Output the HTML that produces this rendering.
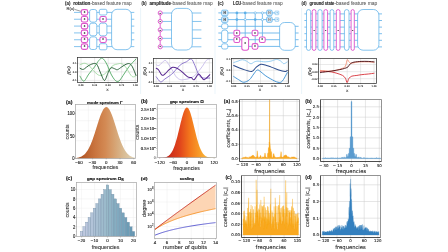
<!DOCTYPE html>
<html><head><meta charset="utf-8"><title>Feature maps and spectra</title>
<style>html,body{margin:0;padding:0;background:#fff;overflow:hidden;} svg{display:block;}</style></head>
<body><svg width="448" height="252" viewBox="0 0 448 252">
<rect width="448" height="252" fill="#fff"/>
<line x1="140.6" y1="8" x2="140.6" y2="94" stroke="#d6e8f5" stroke-width="0.5" />
<line x1="215" y1="8" x2="215" y2="94" stroke="#d6e8f5" stroke-width="0.5" />
<line x1="301.6" y1="8" x2="301.6" y2="94" stroke="#d6e8f5" stroke-width="0.5" />
<text x="65.1" y="5.13" font-size="4.8" text-anchor="start" textLength="5.4" lengthAdjust="spacingAndGlyphs" fill="#333" font-weight="bold" font-style="normal" font-family="'Liberation Sans', 'DejaVu Sans', sans-serif" stroke="#333" stroke-width="0.12">(a)</text>
<text x="73.2" y="4.97" font-size="4.5" text-anchor="start" textLength="17.2" lengthAdjust="spacingAndGlyphs" fill="#262626" font-weight="bold" font-style="normal" font-family="'Liberation Sans', 'DejaVu Sans', sans-serif" stroke="#262626" stroke-width="0.12">rotation</text>
<text x="90.4" y="5.14" font-size="4.7" text-anchor="start" textLength="41.2" lengthAdjust="spacingAndGlyphs" fill="#555" font-weight="normal" font-style="normal" font-family="'Liberation Sans', 'DejaVu Sans', sans-serif" stroke="#555" stroke-width="0.04">-based feature map</text>
<line x1="74" y1="12.4" x2="134.3" y2="12.4" stroke="#5eb0e8" stroke-width="0.75" />
<line x1="74" y1="19.24" x2="134.3" y2="19.24" stroke="#5eb0e8" stroke-width="0.75" />
<line x1="74" y1="26.08" x2="134.3" y2="26.08" stroke="#5eb0e8" stroke-width="0.75" />
<line x1="74" y1="32.92" x2="134.3" y2="32.92" stroke="#5eb0e8" stroke-width="0.75" />
<line x1="74" y1="39.76" x2="134.3" y2="39.76" stroke="#5eb0e8" stroke-width="0.75" />
<line x1="74" y1="46.6" x2="134.3" y2="46.6" stroke="#5eb0e8" stroke-width="0.75" />
<text x="66.6" y="10.44" font-size="4" text-anchor="start" textLength="7.8" lengthAdjust="spacingAndGlyphs" fill="#333" font-weight="normal" font-style="normal" font-family="'Liberation Sans', 'DejaVu Sans', sans-serif" stroke="#333" stroke-width="0.1">R(x)</text>
<line x1="74.6" y1="9.4" x2="81.8" y2="11.6" stroke="#222" stroke-width="0.45" />
<rect x="81.3" y="9.65" width="6.4" height="5.5" rx="1.8" fill="#fff" stroke="#de58cc" stroke-width="1.1" />
<text x="84.5" y="13.08" font-size="2.86" text-anchor="middle" fill="#2a2a2a" font-weight="bold" font-style="normal" font-family="'Liberation Sans', 'DejaVu Sans', sans-serif" stroke="#2a2a2a" stroke-width="0.12" >x</text>
<rect x="81.3" y="16.49" width="6.4" height="5.5" rx="1.8" fill="#fff" stroke="#de58cc" stroke-width="1.1" />
<text x="84.5" y="19.92" font-size="2.86" text-anchor="middle" fill="#2a2a2a" font-weight="bold" font-style="normal" font-family="'Liberation Sans', 'DejaVu Sans', sans-serif" stroke="#2a2a2a" stroke-width="0.12" >x</text>
<rect x="81.3" y="23.33" width="6.4" height="5.5" rx="1.8" fill="#fff" stroke="#de58cc" stroke-width="1.1" />
<text x="84.5" y="26.76" font-size="2.86" text-anchor="middle" fill="#2a2a2a" font-weight="bold" font-style="normal" font-family="'Liberation Sans', 'DejaVu Sans', sans-serif" stroke="#2a2a2a" stroke-width="0.12" >x</text>
<rect x="81.3" y="30.17" width="6.4" height="5.5" rx="1.8" fill="#fff" stroke="#de58cc" stroke-width="1.1" />
<text x="84.5" y="33.6" font-size="2.86" text-anchor="middle" fill="#2a2a2a" font-weight="bold" font-style="normal" font-family="'Liberation Sans', 'DejaVu Sans', sans-serif" stroke="#2a2a2a" stroke-width="0.12" >x</text>
<rect x="81.3" y="37.01" width="6.4" height="5.5" rx="1.8" fill="#fff" stroke="#de58cc" stroke-width="1.1" />
<text x="84.5" y="40.44" font-size="2.86" text-anchor="middle" fill="#2a2a2a" font-weight="bold" font-style="normal" font-family="'Liberation Sans', 'DejaVu Sans', sans-serif" stroke="#2a2a2a" stroke-width="0.12" >x</text>
<rect x="81.3" y="43.85" width="6.4" height="5.5" rx="1.8" fill="#fff" stroke="#de58cc" stroke-width="1.1" />
<text x="84.5" y="47.28" font-size="2.86" text-anchor="middle" fill="#2a2a2a" font-weight="bold" font-style="normal" font-family="'Liberation Sans', 'DejaVu Sans', sans-serif" stroke="#2a2a2a" stroke-width="0.12" >x</text>
<rect x="89.6" y="9.5" width="7.2" height="12.64" rx="2.2" fill="#fff" stroke="#5eb0e8" stroke-width="0.75" />
<rect x="89.6" y="23.18" width="7.2" height="12.64" rx="2.2" fill="#fff" stroke="#5eb0e8" stroke-width="0.75" />
<rect x="89.6" y="36.86" width="7.2" height="12.64" rx="2.2" fill="#fff" stroke="#5eb0e8" stroke-width="0.75" />
<rect x="99.3" y="9.3" width="7.6" height="5.7" rx="1.6" fill="#fff" stroke="#5eb0e8" stroke-width="0.75" />
<rect x="99.9" y="16.49" width="6.4" height="5.5" rx="1.8" fill="#fff" stroke="#de58cc" stroke-width="1.1" />
<text x="103.1" y="19.92" font-size="2.86" text-anchor="middle" fill="#2a2a2a" font-weight="bold" font-style="normal" font-family="'Liberation Sans', 'DejaVu Sans', sans-serif" stroke="#2a2a2a" stroke-width="0.12" >x</text>
<rect x="99.3" y="23.18" width="7.6" height="12.64" rx="2.2" fill="#fff" stroke="#5eb0e8" stroke-width="0.75" />
<rect x="99.9" y="37.01" width="6.4" height="5.5" rx="1.8" fill="#fff" stroke="#de58cc" stroke-width="1.1" />
<text x="103.1" y="40.44" font-size="2.86" text-anchor="middle" fill="#2a2a2a" font-weight="bold" font-style="normal" font-family="'Liberation Sans', 'DejaVu Sans', sans-serif" stroke="#2a2a2a" stroke-width="0.12" >x</text>
<rect x="99.3" y="43.7" width="7.6" height="6.1" rx="1.6" fill="#fff" stroke="#5eb0e8" stroke-width="0.75" />
<rect x="111.6" y="9.3" width="19.8" height="40.4" rx="5.5" fill="#fff" stroke="#5eb0e8" stroke-width="0.75" />
<text x="141.4" y="5.13" font-size="4.8" text-anchor="start" textLength="5.1" lengthAdjust="spacingAndGlyphs" fill="#333" font-weight="bold" font-style="normal" font-family="'Liberation Sans', 'DejaVu Sans', sans-serif" stroke="#333" stroke-width="0.12">(b)</text>
<text x="149.6" y="4.97" font-size="4.5" text-anchor="start" textLength="21.4" lengthAdjust="spacingAndGlyphs" fill="#262626" font-weight="bold" font-style="normal" font-family="'Liberation Sans', 'DejaVu Sans', sans-serif" stroke="#262626" stroke-width="0.12">amplitude</text>
<text x="171" y="5.14" font-size="4.7" text-anchor="start" textLength="41.6" lengthAdjust="spacingAndGlyphs" fill="#555" font-weight="normal" font-style="normal" font-family="'Liberation Sans', 'DejaVu Sans', sans-serif" stroke="#555" stroke-width="0.04">-based feature map</text>
<line x1="160.2" y1="13" x2="201.4" y2="13" stroke="#5eb0e8" stroke-width="0.75" />
<line x1="160.2" y1="21.45" x2="201.4" y2="21.45" stroke="#5eb0e8" stroke-width="0.75" />
<line x1="160.2" y1="29.9" x2="201.4" y2="29.9" stroke="#5eb0e8" stroke-width="0.75" />
<line x1="160.2" y1="38.35" x2="201.4" y2="38.35" stroke="#5eb0e8" stroke-width="0.75" />
<line x1="160.2" y1="46.8" x2="201.4" y2="46.8" stroke="#5eb0e8" stroke-width="0.75" />
<line x1="160.2" y1="13" x2="160.2" y2="46.8" stroke="#de58cc" stroke-width="0.9" />
<circle cx="160.2" cy="13" r="2.05" fill="#f6f6f6" stroke="#de58cc" stroke-width="0.95"/>
<text x="160.2" y="13.6" font-size="2.53" text-anchor="middle" fill="#2a2a2a" font-weight="bold" font-style="normal" font-family="'Liberation Sans', 'DejaVu Sans', sans-serif" stroke="#2a2a2a" stroke-width="0.12" >x</text>
<circle cx="160.2" cy="21.45" r="2.05" fill="#f6f6f6" stroke="#de58cc" stroke-width="0.95"/>
<text x="160.2" y="22.05" font-size="2.53" text-anchor="middle" fill="#2a2a2a" font-weight="bold" font-style="normal" font-family="'Liberation Sans', 'DejaVu Sans', sans-serif" stroke="#2a2a2a" stroke-width="0.12" >x</text>
<circle cx="160.2" cy="29.9" r="2.05" fill="#f6f6f6" stroke="#de58cc" stroke-width="0.95"/>
<text x="160.2" y="30.5" font-size="2.53" text-anchor="middle" fill="#2a2a2a" font-weight="bold" font-style="normal" font-family="'Liberation Sans', 'DejaVu Sans', sans-serif" stroke="#2a2a2a" stroke-width="0.12" >x</text>
<circle cx="160.2" cy="38.35" r="2.05" fill="#f6f6f6" stroke="#de58cc" stroke-width="0.95"/>
<text x="160.2" y="38.95" font-size="2.53" text-anchor="middle" fill="#2a2a2a" font-weight="bold" font-style="normal" font-family="'Liberation Sans', 'DejaVu Sans', sans-serif" stroke="#2a2a2a" stroke-width="0.12" >x</text>
<circle cx="160.2" cy="46.8" r="2.05" fill="#f6f6f6" stroke="#de58cc" stroke-width="0.95"/>
<text x="160.2" y="47.4" font-size="2.53" text-anchor="middle" fill="#2a2a2a" font-weight="bold" font-style="normal" font-family="'Liberation Sans', 'DejaVu Sans', sans-serif" stroke="#2a2a2a" stroke-width="0.12" >x</text>
<rect x="171.5" y="8.4" width="20.8" height="41.6" rx="6" fill="#fff" stroke="#5eb0e8" stroke-width="0.75" />
<text x="217.8" y="5.13" font-size="4.8" text-anchor="start" textLength="5.8" lengthAdjust="spacingAndGlyphs" fill="#333" font-weight="bold" font-style="normal" font-family="'Liberation Sans', 'DejaVu Sans', sans-serif" stroke="#333" stroke-width="0.12">(c)</text>
<text x="233" y="4.97" font-size="4.5" text-anchor="start" textLength="8" lengthAdjust="spacingAndGlyphs" fill="#262626" font-weight="bold" font-style="normal" font-family="'Liberation Sans', 'DejaVu Sans', sans-serif" stroke="#262626" stroke-width="0.12">LCU</text>
<text x="241" y="5.14" font-size="4.7" text-anchor="start" textLength="41.6" lengthAdjust="spacingAndGlyphs" fill="#555" font-weight="normal" font-style="normal" font-family="'Liberation Sans', 'DejaVu Sans', sans-serif" stroke="#555" stroke-width="0.04">-based feature map</text>
<line x1="218.3" y1="12.9" x2="275" y2="12.9" stroke="#5eb0e8" stroke-width="0.85" />
<line x1="218.3" y1="19.6" x2="275" y2="19.6" stroke="#5eb0e8" stroke-width="0.85" />
<line x1="218.3" y1="26.3" x2="298.6" y2="26.3" stroke="#5eb0e8" stroke-width="0.85" />
<line x1="218.3" y1="33" x2="298.6" y2="33" stroke="#5eb0e8" stroke-width="0.85" />
<line x1="218.3" y1="39.7" x2="298.6" y2="39.7" stroke="#5eb0e8" stroke-width="0.85" />
<line x1="218.3" y1="46.4" x2="298.6" y2="46.4" stroke="#5eb0e8" stroke-width="0.85" />
<rect x="221.6" y="10.1" width="6.3" height="5.6" rx="1.2" fill="#d8ecfa" stroke="#5eb0e8" stroke-width="0.75" />
<text x="224.75" y="14.1" font-size="3.3" text-anchor="middle" fill="#333" font-weight="bold" font-style="normal" font-family="'Liberation Sans', 'DejaVu Sans', sans-serif" stroke="#333" stroke-width="0.1" >H</text>
<rect x="221.6" y="16.8" width="6.3" height="5.6" rx="1.2" fill="#d8ecfa" stroke="#5eb0e8" stroke-width="0.75" />
<text x="224.75" y="20.8" font-size="3.3" text-anchor="middle" fill="#333" font-weight="bold" font-style="normal" font-family="'Liberation Sans', 'DejaVu Sans', sans-serif" stroke="#333" stroke-width="0.1" >H</text>
<rect x="221.6" y="23.7" width="6.2" height="5.2" rx="1.8" fill="#fff" stroke="#5eb0e8" stroke-width="0.75" />
<rect x="221.6" y="30.1" width="6.2" height="12.5" rx="2.4" fill="#fff" stroke="#5eb0e8" stroke-width="0.75" />
<rect x="221.6" y="43.8" width="6.2" height="5.2" rx="1.8" fill="#fff" stroke="#5eb0e8" stroke-width="0.75" />
<line x1="236.9" y1="12.9" x2="236.9" y2="39.7" stroke="#5eb0e8" stroke-width="0.8" />
<circle cx="236.9" cy="12.9" r="1.35" fill="#5eb0e8"/>
<circle cx="236.9" cy="19.6" r="1.35" fill="#5eb0e8"/>
<line x1="245.2" y1="12.9" x2="245.2" y2="48.4" stroke="#5eb0e8" stroke-width="0.8" />
<circle cx="245.2" cy="12.9" r="1.35" fill="#5eb0e8"/>
<circle cx="245.2" cy="19.6" r="1.1" fill="#fff" stroke="#5eb0e8" stroke-width="0.6"/>
<line x1="255.2" y1="12.9" x2="255.2" y2="46.4" stroke="#5eb0e8" stroke-width="0.8" />
<circle cx="255.2" cy="12.9" r="1.1" fill="#fff" stroke="#5eb0e8" stroke-width="0.6"/>
<circle cx="255.2" cy="19.6" r="1.35" fill="#5eb0e8"/>
<line x1="262.4" y1="12.9" x2="262.4" y2="39.7" stroke="#5eb0e8" stroke-width="0.8" />
<circle cx="262.4" cy="12.9" r="1.1" fill="#fff" stroke="#5eb0e8" stroke-width="0.6"/>
<circle cx="262.4" cy="19.6" r="1.1" fill="#fff" stroke="#5eb0e8" stroke-width="0.6"/>
<rect x="233.9" y="30.2" width="5.8" height="5.6" rx="1.6" fill="#fff" stroke="#de58cc" stroke-width="1.05" />
<text x="236.8" y="33.62" font-size="2.64" text-anchor="middle" fill="#2a2a2a" font-weight="bold" font-style="normal" font-family="'Liberation Sans', 'DejaVu Sans', sans-serif" stroke="#2a2a2a" stroke-width="0.12" >x</text>
<rect x="233.9" y="36.9" width="5.8" height="5.6" rx="1.6" fill="#fff" stroke="#de58cc" stroke-width="1.05" />
<text x="236.8" y="40.32" font-size="2.64" text-anchor="middle" fill="#2a2a2a" font-weight="bold" font-style="normal" font-family="'Liberation Sans', 'DejaVu Sans', sans-serif" stroke="#2a2a2a" stroke-width="0.12" >x</text>
<rect x="241.8" y="37.3" width="6.8" height="13" rx="2.2" fill="#fff" stroke="#de58cc" stroke-width="1.05" />
<text x="245.2" y="44.42" font-size="2.64" text-anchor="middle" fill="#2a2a2a" font-weight="bold" font-style="normal" font-family="'Liberation Sans', 'DejaVu Sans', sans-serif" stroke="#2a2a2a" stroke-width="0.12" >x</text>
<rect x="252.1" y="30.2" width="5.8" height="5.6" rx="1.6" fill="#fff" stroke="#de58cc" stroke-width="1.05" />
<text x="255" y="33.62" font-size="2.64" text-anchor="middle" fill="#2a2a2a" font-weight="bold" font-style="normal" font-family="'Liberation Sans', 'DejaVu Sans', sans-serif" stroke="#2a2a2a" stroke-width="0.12" >x</text>
<rect x="252.1" y="43.6" width="5.8" height="5.6" rx="1.6" fill="#fff" stroke="#de58cc" stroke-width="1.05" />
<text x="255" y="47.02" font-size="2.64" text-anchor="middle" fill="#2a2a2a" font-weight="bold" font-style="normal" font-family="'Liberation Sans', 'DejaVu Sans', sans-serif" stroke="#2a2a2a" stroke-width="0.12" >x</text>
<rect x="259.4" y="36.9" width="5.8" height="5.6" rx="1.6" fill="#fff" stroke="#de58cc" stroke-width="1.05" />
<text x="262.3" y="40.32" font-size="2.64" text-anchor="middle" fill="#2a2a2a" font-weight="bold" font-style="normal" font-family="'Liberation Sans', 'DejaVu Sans', sans-serif" stroke="#2a2a2a" stroke-width="0.12" >x</text>
<rect x="266.6" y="10.1" width="5.6" height="5.6" rx="1.4" fill="#d2e6f5" stroke="#5eb0e8" stroke-width="0.75" />
<text x="269.4" y="14.1" font-size="3.3" text-anchor="middle" fill="#8a7a70" font-weight="bold" font-style="normal" font-family="'Liberation Sans', 'DejaVu Sans', sans-serif" stroke="#8a7a70" stroke-width="0.1" >H</text>
<rect x="275" y="11.1" width="3.8" height="3.6" rx="0.4" fill="#fff" stroke="#5eb0e8" stroke-width="0.5" />
<path d="M275.5,13.8 A1.4,1.4 0 0 1 278.3,13.8 M276.9,13.9 L278.1,11.6" fill="none" stroke="#5eb0e8" stroke-width="0.45"/>
<rect x="266.6" y="16.8" width="5.6" height="5.6" rx="1.4" fill="#d2e6f5" stroke="#5eb0e8" stroke-width="0.75" />
<text x="269.4" y="20.8" font-size="3.3" text-anchor="middle" fill="#8a7a70" font-weight="bold" font-style="normal" font-family="'Liberation Sans', 'DejaVu Sans', sans-serif" stroke="#8a7a70" stroke-width="0.1" >H</text>
<rect x="275" y="17.8" width="3.8" height="3.6" rx="0.4" fill="#fff" stroke="#5eb0e8" stroke-width="0.5" />
<path d="M275.5,20.5 A1.4,1.4 0 0 1 278.3,20.5 M276.9,20.6 L278.1,18.3" fill="none" stroke="#5eb0e8" stroke-width="0.45"/>
<rect x="279.6" y="22.5" width="15.7" height="27.8" rx="5" fill="#fff" stroke="#5eb0e8" stroke-width="0.75" />
<text x="301.4" y="5.13" font-size="4.8" text-anchor="start" textLength="5.1" lengthAdjust="spacingAndGlyphs" fill="#333" font-weight="bold" font-style="normal" font-family="'Liberation Sans', 'DejaVu Sans', sans-serif" stroke="#333" stroke-width="0.12">(d)</text>
<text x="309.6" y="4.97" font-size="4.5" text-anchor="start" textLength="24.8" lengthAdjust="spacingAndGlyphs" fill="#262626" font-weight="bold" font-style="normal" font-family="'Liberation Sans', 'DejaVu Sans', sans-serif" stroke="#262626" stroke-width="0.12">ground state</text>
<text x="334.4" y="5.14" font-size="4.7" text-anchor="start" textLength="42.9" lengthAdjust="spacingAndGlyphs" fill="#555" font-weight="normal" font-style="normal" font-family="'Liberation Sans', 'DejaVu Sans', sans-serif" stroke="#555" stroke-width="0.04">-based feature map</text>
<line x1="304.4" y1="13.9" x2="382" y2="13.9" stroke="#5eb0e8" stroke-width="0.8" />
<line x1="304.4" y1="20.5" x2="382" y2="20.5" stroke="#5eb0e8" stroke-width="0.8" />
<line x1="304.4" y1="27.1" x2="382" y2="27.1" stroke="#5eb0e8" stroke-width="0.8" />
<line x1="304.4" y1="33.7" x2="382" y2="33.7" stroke="#5eb0e8" stroke-width="0.8" />
<line x1="304.4" y1="40.3" x2="382" y2="40.3" stroke="#5eb0e8" stroke-width="0.8" />
<line x1="304.4" y1="46.9" x2="382" y2="46.9" stroke="#5eb0e8" stroke-width="0.8" />
<rect x="306.5" y="9.6" width="4.2" height="40.8" rx="2.1" fill="#fff" stroke="#5eb0e8" stroke-width="0.75" />
<rect x="312.2" y="9.6" width="3.7" height="40.8" rx="1.85" fill="#fff" stroke="#de58cc" stroke-width="0.95" />
<text x="314.05" y="30.87" font-size="2.42" text-anchor="middle" fill="#2a2a2a" font-weight="bold" font-style="normal" font-family="'Liberation Sans', 'DejaVu Sans', sans-serif" stroke="#2a2a2a" stroke-width="0.12" >x</text>
<rect x="317.9" y="9.6" width="4.2" height="40.8" rx="2.1" fill="#fff" stroke="#5eb0e8" stroke-width="0.75" />
<rect x="323.9" y="9.6" width="3.7" height="40.8" rx="1.85" fill="#fff" stroke="#de58cc" stroke-width="0.95" />
<text x="325.75" y="30.87" font-size="2.42" text-anchor="middle" fill="#2a2a2a" font-weight="bold" font-style="normal" font-family="'Liberation Sans', 'DejaVu Sans', sans-serif" stroke="#2a2a2a" stroke-width="0.12" >x</text>
<rect x="330.1" y="9.6" width="3.7" height="40.8" rx="1.85" fill="#fff" stroke="#5eb0e8" stroke-width="0.75" />
<rect x="336.3" y="9.6" width="3.7" height="40.8" rx="1.85" fill="#fff" stroke="#de58cc" stroke-width="0.95" />
<text x="338.15" y="30.87" font-size="2.42" text-anchor="middle" fill="#2a2a2a" font-weight="bold" font-style="normal" font-family="'Liberation Sans', 'DejaVu Sans', sans-serif" stroke="#2a2a2a" stroke-width="0.12" >x</text>
<rect x="344.4" y="9.6" width="4.6" height="40.8" rx="2.3" fill="#fff" stroke="#5eb0e8" stroke-width="0.75" />
<rect x="351.1" y="9.6" width="3.2" height="40.8" rx="1.6" fill="#fff" stroke="#de58cc" stroke-width="0.95" />
<text x="352.7" y="30.87" font-size="2.42" text-anchor="middle" fill="#2a2a2a" font-weight="bold" font-style="normal" font-family="'Liberation Sans', 'DejaVu Sans', sans-serif" stroke="#2a2a2a" stroke-width="0.12" >x</text>
<rect x="357.6" y="9.5" width="21.3" height="40.7" rx="5.5" fill="#fff" stroke="#5eb0e8" stroke-width="0.75" />
<line x1="81" y1="57.1" x2="81" y2="82.6" stroke="#d0d0d0" stroke-width="0.45" />
<line x1="94.6" y1="57.1" x2="94.6" y2="82.6" stroke="#d0d0d0" stroke-width="0.45" />
<line x1="108.2" y1="57.1" x2="108.2" y2="82.6" stroke="#d0d0d0" stroke-width="0.45" />
<line x1="121.7" y1="57.1" x2="121.7" y2="82.6" stroke="#d0d0d0" stroke-width="0.45" />
<line x1="135.3" y1="57.1" x2="135.3" y2="82.6" stroke="#d0d0d0" stroke-width="0.45" />
<line x1="77.4" y1="63.3" x2="137.7" y2="63.3" stroke="#d0d0d0" stroke-width="0.45" />
<line x1="77.4" y1="71.9" x2="137.7" y2="71.9" stroke="#d0d0d0" stroke-width="0.45" />
<line x1="77.4" y1="80.4" x2="137.7" y2="80.4" stroke="#d0d0d0" stroke-width="0.45" />
<clipPath id="c77"><rect x="77.4" y="57.1" width="60.3" height="25.5"/></clipPath>
<g clip-path="url(#c77)">
<path d="M80,76.14 C80.64,76.98 82.38,81.5 83.86,81.14 C85.33,80.79 87.07,76.38 88.86,74 C90.64,71.62 92.9,69.12 94.57,66.86 C96.24,64.6 97.55,61.86 98.86,60.43 C100.17,59 101.12,57.69 102.43,58.29 C103.74,58.88 105.29,61.38 106.71,64 C108.14,66.62 109.57,71.26 111,74 C112.43,76.74 113.98,79.24 115.29,80.43 C116.6,81.62 117.55,81.98 118.86,81.14 C120.17,80.31 121.48,77.81 123.14,75.43 C124.81,73.05 126.71,69.6 128.86,66.86 C131,64.12 134.81,60.31 136,59" fill="none" stroke="#44a358" stroke-width="0.836" stroke-linejoin="round" stroke-linecap="round"/>
<path d="M80,64.71 C80.76,64.48 83.1,63.17 84.57,63.29 C86.05,63.4 87.19,64 88.86,65.43 C90.52,66.86 92.79,70.19 94.57,71.86 C96.36,73.52 97.9,75.07 99.57,75.43 C101.24,75.79 103.02,74.95 104.57,74 C106.12,73.05 107.43,71.14 108.86,69.71 C110.29,68.29 111.71,66.38 113.14,65.43 C114.57,64.48 116,64.29 117.43,64 C118.86,63.71 120.29,63.12 121.71,63.71 C123.14,64.31 124.45,65.62 126,67.57 C127.55,69.52 129.69,73.88 131,75.43 C132.31,76.98 133.02,76.86 133.86,76.86 C134.69,76.86 135.64,75.67 136,75.43" fill="none" stroke="#9ad89a" stroke-width="0.836" stroke-linejoin="round" stroke-linecap="round"/>
<path d="M80,68.29 C80.4,68.48 81.67,69.36 82.43,69.43 C83.19,69.5 83.5,69.38 84.57,68.71 C85.64,68.05 87.19,66.31 88.86,65.43 C90.52,64.55 93.14,63.43 94.57,63.43 C96,63.43 96.36,63.67 97.43,65.43 C98.5,67.19 99.81,71.5 101,74 C102.19,76.5 103.38,80.67 104.57,80.43 C105.76,80.19 107.07,74.67 108.14,72.57 C109.21,70.48 109.93,68.5 111,67.86 C112.07,67.21 113.5,68.4 114.57,68.71 C115.64,69.02 116.24,70.02 117.43,69.71 C118.62,69.4 120.29,67.76 121.71,66.86 C123.14,65.95 124.69,64.81 126,64.29 C127.31,63.76 128.5,63.29 129.57,63.71 C130.64,64.14 131.36,64.9 132.43,66.86 C133.5,68.81 135.4,74 136,75.43" fill="none" stroke="#1f5a30" stroke-width="0.924" stroke-linejoin="round" stroke-linecap="round"/>
</g>
<rect x="77.5" y="57.5" width="60" height="25" rx="0" fill="none" stroke="#333" stroke-width="0.75" />
<line x1="76.6" y1="63.3" x2="77.4" y2="63.3" stroke="#333" stroke-width="0.35" />
<text x="76.5" y="64.15" font-size="2.35" text-anchor="end" fill="#333" font-weight="normal" font-style="normal" font-family="'DejaVu Sans', 'Liberation Sans', sans-serif" stroke="#333" stroke-width="0.1" >0.1</text>
<line x1="76.6" y1="71.9" x2="77.4" y2="71.9" stroke="#333" stroke-width="0.35" />
<text x="76.5" y="72.75" font-size="2.35" text-anchor="end" fill="#333" font-weight="normal" font-style="normal" font-family="'DejaVu Sans', 'Liberation Sans', sans-serif" stroke="#333" stroke-width="0.1" >0.0</text>
<line x1="76.6" y1="80.4" x2="77.4" y2="80.4" stroke="#333" stroke-width="0.35" />
<text x="76.5" y="81.25" font-size="2.35" text-anchor="end" fill="#333" font-weight="normal" font-style="normal" font-family="'DejaVu Sans', 'Liberation Sans', sans-serif" stroke="#333" stroke-width="0.1" >-0.1</text>
<line x1="81" y1="82.6" x2="81" y2="83.4" stroke="#333" stroke-width="0.35" />
<text x="81" y="86.1" font-size="2.35" text-anchor="middle" fill="#333" font-weight="normal" font-style="normal" font-family="'DejaVu Sans', 'Liberation Sans', sans-serif" stroke="#333" stroke-width="0.1" >0.00</text>
<line x1="94.6" y1="82.6" x2="94.6" y2="83.4" stroke="#333" stroke-width="0.35" />
<text x="94.6" y="86.1" font-size="2.35" text-anchor="middle" fill="#333" font-weight="normal" font-style="normal" font-family="'DejaVu Sans', 'Liberation Sans', sans-serif" stroke="#333" stroke-width="0.1" >0.25</text>
<line x1="108.2" y1="82.6" x2="108.2" y2="83.4" stroke="#333" stroke-width="0.35" />
<text x="108.2" y="86.1" font-size="2.35" text-anchor="middle" fill="#333" font-weight="normal" font-style="normal" font-family="'DejaVu Sans', 'Liberation Sans', sans-serif" stroke="#333" stroke-width="0.1" >0.50</text>
<line x1="121.7" y1="82.6" x2="121.7" y2="83.4" stroke="#333" stroke-width="0.35" />
<text x="121.7" y="86.1" font-size="2.35" text-anchor="middle" fill="#333" font-weight="normal" font-style="normal" font-family="'DejaVu Sans', 'Liberation Sans', sans-serif" stroke="#333" stroke-width="0.1" >0.75</text>
<line x1="135.3" y1="82.6" x2="135.3" y2="83.4" stroke="#333" stroke-width="0.35" />
<text x="135.3" y="86.1" font-size="2.35" text-anchor="middle" fill="#333" font-weight="normal" font-style="normal" font-family="'DejaVu Sans', 'Liberation Sans', sans-serif" stroke="#333" stroke-width="0.1" >1.00</text>
<text x="107.55" y="91" font-size="4.2" text-anchor="middle" fill="#333" font-weight="normal" font-style="normal" font-family="'DejaVu Sans', 'Liberation Sans', sans-serif" stroke="#333" stroke-width="0.1" >x</text>
<text x="69.73" y="74.65" font-size="4.8" textLength="8.4" lengthAdjust="spacingAndGlyphs" fill="#333" font-weight="normal" font-style="italic" font-family="'Liberation Serif', 'DejaVu Serif', serif" stroke="#333" stroke-width="0.15" transform="rotate(-90 69.73 74.65)">f(x)</text>
<line x1="156.3" y1="58.3" x2="156.3" y2="83" stroke="#d0d0d0" stroke-width="0.45" />
<line x1="169.6" y1="58.3" x2="169.6" y2="83" stroke="#d0d0d0" stroke-width="0.45" />
<line x1="182.9" y1="58.3" x2="182.9" y2="83" stroke="#d0d0d0" stroke-width="0.45" />
<line x1="196.2" y1="58.3" x2="196.2" y2="83" stroke="#d0d0d0" stroke-width="0.45" />
<line x1="209.4" y1="58.3" x2="209.4" y2="83" stroke="#d0d0d0" stroke-width="0.45" />
<line x1="153.4" y1="62.8" x2="212.7" y2="62.8" stroke="#d0d0d0" stroke-width="0.45" />
<line x1="153.4" y1="72.3" x2="212.7" y2="72.3" stroke="#d0d0d0" stroke-width="0.45" />
<line x1="153.4" y1="81.8" x2="212.7" y2="81.8" stroke="#d0d0d0" stroke-width="0.45" />
<clipPath id="c153"><rect x="153.4" y="58.3" width="59.3" height="24.7"/></clipPath>
<g clip-path="url(#c153)">
<path d="M156.29,64.71 C156.76,64.83 157.71,66.14 159.14,65.43 C160.57,64.71 163.31,60.67 164.86,60.43 C166.4,60.19 167.24,62.45 168.43,64 C169.62,65.55 170.69,67.57 172,69.71 C173.31,71.86 174.86,75.19 176.29,76.86 C177.71,78.52 179.14,79.29 180.57,79.71 C182,80.14 183.43,79.62 184.86,79.43 C186.29,79.24 187.48,79.24 189.14,78.57 C190.81,77.9 192.71,77.38 194.86,75.43 C197,73.48 200.1,69.36 202,66.86 C203.9,64.36 204.98,61.74 206.29,60.43 C207.6,59.12 209.26,59.24 209.86,59" fill="none" stroke="#c2b6e8" stroke-width="0.836" stroke-linejoin="round" stroke-linecap="round"/>
<path d="M156.29,76.86 C157,77.69 159.14,81.5 160.57,81.86 C162,82.21 163.43,79.95 164.86,79 C166.29,78.05 167.71,77.21 169.14,76.14 C170.57,75.07 172,74 173.43,72.57 C174.86,71.14 176.29,69.05 177.71,67.57 C179.14,66.1 180.57,64.67 182,63.71 C183.43,62.76 184.74,62.64 186.29,61.86 C187.83,61.07 189.86,58.4 191.29,59 C192.71,59.6 193.55,62.69 194.86,65.43 C196.17,68.17 197.71,73.33 199.14,75.43 C200.57,77.52 201.64,77.57 203.43,78 C205.21,78.43 208.79,78 209.86,78" fill="none" stroke="#7d63c6" stroke-width="0.836" stroke-linejoin="round" stroke-linecap="round"/>
<path d="M156.29,68.29 C156.64,68.52 157.48,68.57 158.43,69.71 C159.38,70.86 160.93,74.43 162,75.14 C163.07,75.86 163.67,74.9 164.86,74 C166.05,73.1 167.83,70.83 169.14,69.71 C170.45,68.6 171.4,67.52 172.71,67.29 C174.02,67.05 175.45,67.52 177,68.29 C178.55,69.05 180.21,70.43 182,71.86 C183.79,73.29 186.17,75.9 187.71,76.86 C189.26,77.81 190.21,77.1 191.29,77.57 C192.36,78.05 192.95,80.31 194.14,79.71 C195.33,79.12 197.24,74.48 198.43,74 C199.62,73.52 200.33,75.9 201.29,76.86 C202.24,77.81 202.71,80.07 204.14,79.71 C205.57,79.36 208.9,75.55 209.86,74.71" fill="none" stroke="#56268e" stroke-width="1.012" stroke-linejoin="round" stroke-linecap="round"/>
</g>
<rect x="153.5" y="58.5" width="59" height="25" rx="0" fill="none" stroke="#333" stroke-width="0.75" />
<line x1="152.6" y1="62.8" x2="153.4" y2="62.8" stroke="#333" stroke-width="0.35" />
<text x="152.5" y="63.65" font-size="2.35" text-anchor="end" fill="#333" font-weight="normal" font-style="normal" font-family="'DejaVu Sans', 'Liberation Sans', sans-serif" stroke="#333" stroke-width="0.1" >0.1</text>
<line x1="152.6" y1="72.3" x2="153.4" y2="72.3" stroke="#333" stroke-width="0.35" />
<text x="152.5" y="73.15" font-size="2.35" text-anchor="end" fill="#333" font-weight="normal" font-style="normal" font-family="'DejaVu Sans', 'Liberation Sans', sans-serif" stroke="#333" stroke-width="0.1" >0.0</text>
<line x1="152.6" y1="81.8" x2="153.4" y2="81.8" stroke="#333" stroke-width="0.35" />
<text x="152.5" y="82.65" font-size="2.35" text-anchor="end" fill="#333" font-weight="normal" font-style="normal" font-family="'DejaVu Sans', 'Liberation Sans', sans-serif" stroke="#333" stroke-width="0.1" >-0.1</text>
<line x1="156.3" y1="83" x2="156.3" y2="83.8" stroke="#333" stroke-width="0.35" />
<text x="156.3" y="86.5" font-size="2.35" text-anchor="middle" fill="#333" font-weight="normal" font-style="normal" font-family="'DejaVu Sans', 'Liberation Sans', sans-serif" stroke="#333" stroke-width="0.1" >0.00</text>
<line x1="169.6" y1="83" x2="169.6" y2="83.8" stroke="#333" stroke-width="0.35" />
<text x="169.6" y="86.5" font-size="2.35" text-anchor="middle" fill="#333" font-weight="normal" font-style="normal" font-family="'DejaVu Sans', 'Liberation Sans', sans-serif" stroke="#333" stroke-width="0.1" >0.25</text>
<line x1="182.9" y1="83" x2="182.9" y2="83.8" stroke="#333" stroke-width="0.35" />
<text x="182.9" y="86.5" font-size="2.35" text-anchor="middle" fill="#333" font-weight="normal" font-style="normal" font-family="'DejaVu Sans', 'Liberation Sans', sans-serif" stroke="#333" stroke-width="0.1" >0.50</text>
<line x1="196.2" y1="83" x2="196.2" y2="83.8" stroke="#333" stroke-width="0.35" />
<text x="196.2" y="86.5" font-size="2.35" text-anchor="middle" fill="#333" font-weight="normal" font-style="normal" font-family="'DejaVu Sans', 'Liberation Sans', sans-serif" stroke="#333" stroke-width="0.1" >0.75</text>
<line x1="209.4" y1="83" x2="209.4" y2="83.8" stroke="#333" stroke-width="0.35" />
<text x="209.4" y="86.5" font-size="2.35" text-anchor="middle" fill="#333" font-weight="normal" font-style="normal" font-family="'DejaVu Sans', 'Liberation Sans', sans-serif" stroke="#333" stroke-width="0.1" >1.00</text>
<text x="183.05" y="91.4" font-size="4.2" text-anchor="middle" fill="#333" font-weight="normal" font-style="normal" font-family="'DejaVu Sans', 'Liberation Sans', sans-serif" stroke="#333" stroke-width="0.1" >x</text>
<text x="145.73" y="75.45" font-size="4.8" textLength="8.4" lengthAdjust="spacingAndGlyphs" fill="#333" font-weight="normal" font-style="italic" font-family="'Liberation Serif', 'DejaVu Serif', serif" stroke="#333" stroke-width="0.15" transform="rotate(-90 145.73 75.45)">f(x)</text>
<line x1="233.7" y1="58.3" x2="233.7" y2="83" stroke="#d0d0d0" stroke-width="0.45" />
<line x1="247.1" y1="58.3" x2="247.1" y2="83" stroke="#d0d0d0" stroke-width="0.45" />
<line x1="260.5" y1="58.3" x2="260.5" y2="83" stroke="#d0d0d0" stroke-width="0.45" />
<line x1="273.9" y1="58.3" x2="273.9" y2="83" stroke="#d0d0d0" stroke-width="0.45" />
<line x1="287.3" y1="58.3" x2="287.3" y2="83" stroke="#d0d0d0" stroke-width="0.45" />
<line x1="231.1" y1="59.3" x2="288.7" y2="59.3" stroke="#d0d0d0" stroke-width="0.45" />
<line x1="231.1" y1="70.2" x2="288.7" y2="70.2" stroke="#d0d0d0" stroke-width="0.45" />
<line x1="231.1" y1="81.1" x2="288.7" y2="81.1" stroke="#d0d0d0" stroke-width="0.45" />
<clipPath id="c231"><rect x="231.1" y="58.3" width="57.6" height="24.7"/></clipPath>
<g clip-path="url(#c231)">
<path d="M233.71,62.57 C234.43,62.33 236.57,61.62 238,61.14 C239.43,60.67 240.86,59.71 242.29,59.71 C243.71,59.71 245.14,60.48 246.57,61.14 C248,61.81 249.55,63.6 250.86,63.71 C252.17,63.83 253.24,62.29 254.43,61.86 C255.62,61.43 256.21,61.14 258,61.14 C259.79,61.14 263,61.86 265.14,61.86 C267.29,61.86 268.95,61.55 270.86,61.14 C272.76,60.74 274.9,59.43 276.57,59.43 C278.24,59.43 279.67,60.43 280.86,61.14 C282.05,61.86 282.64,63.6 283.71,63.71 C284.79,63.83 286.69,62.17 287.29,61.86" fill="none" stroke="#86c6ee" stroke-width="0.836" stroke-linejoin="round" stroke-linecap="round"/>
<path d="M233.71,76.57 C234.55,77.1 237.05,78.76 238.71,79.71 C240.38,80.67 241.93,82.29 243.71,82.29 C245.5,82.29 247.76,81.1 249.43,79.71 C251.1,78.33 252.4,75.62 253.71,74 C255.02,72.38 256.1,70.36 257.29,70 C258.48,69.64 259.55,70.95 260.86,71.86 C262.17,72.76 263.48,74.24 265.14,75.43 C266.81,76.62 268.71,77.86 270.86,79 C273,80.14 276.1,81.93 278,82.29 C279.9,82.64 280.74,82.76 282.29,81.14 C283.83,79.52 286.45,74 287.29,72.57" fill="none" stroke="#3a8fd4" stroke-width="0.924" stroke-linejoin="round" stroke-linecap="round"/>
<path d="M233.71,65.43 C235.14,66.02 239.31,68 242.29,69 C245.26,70 249.31,71.67 251.57,71.43 C253.83,71.19 254.31,68.76 255.86,67.57 C257.4,66.38 259.07,64.64 260.86,64.29 C262.64,63.93 264.9,65 266.57,65.43 C268.24,65.86 268.95,66.14 270.86,66.86 C272.76,67.57 275.62,68.95 278,69.71 C280.38,70.48 283.6,71.31 285.14,71.43 C286.69,71.55 286.93,70.6 287.29,70.43" fill="none" stroke="#2b4b8c" stroke-width="1.012" stroke-linejoin="round" stroke-linecap="round"/>
</g>
<rect x="231.5" y="58.5" width="57" height="25" rx="0" fill="none" stroke="#333" stroke-width="0.75" />
<line x1="230.3" y1="59.3" x2="231.1" y2="59.3" stroke="#333" stroke-width="0.35" />
<text x="230.2" y="60.15" font-size="2.35" text-anchor="end" fill="#333" font-weight="normal" font-style="normal" font-family="'DejaVu Sans', 'Liberation Sans', sans-serif" stroke="#333" stroke-width="0.1" >0.1</text>
<line x1="230.3" y1="70.2" x2="231.1" y2="70.2" stroke="#333" stroke-width="0.35" />
<text x="230.2" y="71.05" font-size="2.35" text-anchor="end" fill="#333" font-weight="normal" font-style="normal" font-family="'DejaVu Sans', 'Liberation Sans', sans-serif" stroke="#333" stroke-width="0.1" >0.0</text>
<line x1="230.3" y1="81.1" x2="231.1" y2="81.1" stroke="#333" stroke-width="0.35" />
<text x="230.2" y="81.95" font-size="2.35" text-anchor="end" fill="#333" font-weight="normal" font-style="normal" font-family="'DejaVu Sans', 'Liberation Sans', sans-serif" stroke="#333" stroke-width="0.1" >-0.1</text>
<line x1="233.7" y1="83" x2="233.7" y2="83.8" stroke="#333" stroke-width="0.35" />
<text x="233.7" y="86.5" font-size="2.35" text-anchor="middle" fill="#333" font-weight="normal" font-style="normal" font-family="'DejaVu Sans', 'Liberation Sans', sans-serif" stroke="#333" stroke-width="0.1" >0.00</text>
<line x1="247.1" y1="83" x2="247.1" y2="83.8" stroke="#333" stroke-width="0.35" />
<text x="247.1" y="86.5" font-size="2.35" text-anchor="middle" fill="#333" font-weight="normal" font-style="normal" font-family="'DejaVu Sans', 'Liberation Sans', sans-serif" stroke="#333" stroke-width="0.1" >0.25</text>
<line x1="260.5" y1="83" x2="260.5" y2="83.8" stroke="#333" stroke-width="0.35" />
<text x="260.5" y="86.5" font-size="2.35" text-anchor="middle" fill="#333" font-weight="normal" font-style="normal" font-family="'DejaVu Sans', 'Liberation Sans', sans-serif" stroke="#333" stroke-width="0.1" >0.50</text>
<line x1="273.9" y1="83" x2="273.9" y2="83.8" stroke="#333" stroke-width="0.35" />
<text x="273.9" y="86.5" font-size="2.35" text-anchor="middle" fill="#333" font-weight="normal" font-style="normal" font-family="'DejaVu Sans', 'Liberation Sans', sans-serif" stroke="#333" stroke-width="0.1" >0.75</text>
<line x1="287.3" y1="83" x2="287.3" y2="83.8" stroke="#333" stroke-width="0.35" />
<text x="287.3" y="86.5" font-size="2.35" text-anchor="middle" fill="#333" font-weight="normal" font-style="normal" font-family="'DejaVu Sans', 'Liberation Sans', sans-serif" stroke="#333" stroke-width="0.1" >1.00</text>
<text x="259.9" y="91.4" font-size="4.2" text-anchor="middle" fill="#333" font-weight="normal" font-style="normal" font-family="'DejaVu Sans', 'Liberation Sans', sans-serif" stroke="#333" stroke-width="0.1" >x</text>
<text x="223.43" y="75.45" font-size="4.8" textLength="8.4" lengthAdjust="spacingAndGlyphs" fill="#333" font-weight="normal" font-style="italic" font-family="'Liberation Serif', 'DejaVu Serif', serif" stroke="#333" stroke-width="0.15" transform="rotate(-90 223.43 75.45)">f(x)</text>
<line x1="320.4" y1="58.6" x2="320.4" y2="83.3" stroke="#d0d0d0" stroke-width="0.45" />
<line x1="333.8" y1="58.6" x2="333.8" y2="83.3" stroke="#d0d0d0" stroke-width="0.45" />
<line x1="347.2" y1="58.6" x2="347.2" y2="83.3" stroke="#d0d0d0" stroke-width="0.45" />
<line x1="360.6" y1="58.6" x2="360.6" y2="83.3" stroke="#d0d0d0" stroke-width="0.45" />
<line x1="374" y1="58.6" x2="374" y2="83.3" stroke="#d0d0d0" stroke-width="0.45" />
<line x1="318.3" y1="64.5" x2="376.1" y2="64.5" stroke="#d0d0d0" stroke-width="0.45" />
<line x1="318.3" y1="71.7" x2="376.1" y2="71.7" stroke="#d0d0d0" stroke-width="0.45" />
<line x1="318.3" y1="78.7" x2="376.1" y2="78.7" stroke="#d0d0d0" stroke-width="0.45" />
<clipPath id="c318"><rect x="318.3" y="58.6" width="57.8" height="24.7"/></clipPath>
<g clip-path="url(#c318)">
<path d="M320.43,71.14 C321.26,71.19 323.64,71.31 325.43,71.43 C327.21,71.55 329.24,71.55 331.14,71.86 C333.05,72.17 334.95,72.69 336.86,73.29 C338.76,73.88 341.14,74.6 342.57,75.43 C344,76.26 344.67,77.1 345.43,78.29 C346.19,79.48 346.55,82.57 347.14,82.57 C347.74,82.57 348.21,79.36 349,78.29 C349.79,77.21 350.55,76.62 351.86,76.14 C353.17,75.67 355.31,75.67 356.86,75.43 C358.4,75.19 359.24,74.95 361.14,74.71 C363.05,74.48 366.14,74.24 368.29,74 C370.43,73.76 373.05,73.4 374,73.29" fill="none" stroke="#d8343c" stroke-width="0.924" stroke-linejoin="round" stroke-linecap="round"/>
<path d="M320.43,70.43 C321.26,70.5 323.64,70.74 325.43,70.86 C327.21,70.98 329.24,71.26 331.14,71.14 C333.05,71.02 334.95,70.62 336.86,70.14 C338.76,69.67 341.14,68.95 342.57,68.29 C344,67.62 344.64,67.57 345.43,66.14 C346.21,64.71 346.69,60.43 347.29,59.71 C347.88,59 348.36,61.26 349,61.86 C349.64,62.45 349.83,63.24 351.14,63.29 C352.45,63.33 355.19,62.38 356.86,62.14 C358.52,61.9 359.24,61.9 361.14,61.86 C363.05,61.81 366.14,61.79 368.29,61.86 C370.43,61.93 373.05,62.21 374,62.29" fill="none" stroke="#f58a6c" stroke-width="0.836" stroke-linejoin="round" stroke-linecap="round"/>
<path d="M320.43,72.57 C321.26,72.45 323.64,72.1 325.43,71.86 C327.21,71.62 329.24,71.43 331.14,71.14 C333.05,70.86 334.95,70.5 336.86,70.14 C338.76,69.79 341.02,69.38 342.57,69 C344.12,68.62 345.24,68.21 346.14,67.86 C347.05,67.5 347.29,67.55 348,66.86 C348.71,66.17 349.43,64.5 350.43,63.71 C351.43,62.93 352.21,62.52 354,62.14 C355.79,61.76 358.76,61.55 361.14,61.43 C363.52,61.31 366.14,61.36 368.29,61.43 C370.43,61.5 373.05,61.79 374,61.86" fill="none" stroke="#4a1016" stroke-width="0.924" stroke-linejoin="round" stroke-linecap="round"/>
</g>
<rect x="318.5" y="58.5" width="58" height="25" rx="0" fill="none" stroke="#333" stroke-width="0.75" />
<line x1="317.5" y1="64.5" x2="318.3" y2="64.5" stroke="#333" stroke-width="0.35" />
<text x="317.4" y="65.35" font-size="2.35" text-anchor="end" fill="#333" font-weight="normal" font-style="normal" font-family="'DejaVu Sans', 'Liberation Sans', sans-serif" stroke="#333" stroke-width="0.1" >0.02</text>
<line x1="317.5" y1="71.7" x2="318.3" y2="71.7" stroke="#333" stroke-width="0.35" />
<text x="317.4" y="72.55" font-size="2.35" text-anchor="end" fill="#333" font-weight="normal" font-style="normal" font-family="'DejaVu Sans', 'Liberation Sans', sans-serif" stroke="#333" stroke-width="0.1" >0.00</text>
<line x1="317.5" y1="78.7" x2="318.3" y2="78.7" stroke="#333" stroke-width="0.35" />
<text x="317.4" y="79.55" font-size="2.35" text-anchor="end" fill="#333" font-weight="normal" font-style="normal" font-family="'DejaVu Sans', 'Liberation Sans', sans-serif" stroke="#333" stroke-width="0.1" >-0.02</text>
<line x1="320.4" y1="83.3" x2="320.4" y2="84.1" stroke="#333" stroke-width="0.35" />
<text x="320.4" y="86.8" font-size="2.35" text-anchor="middle" fill="#333" font-weight="normal" font-style="normal" font-family="'DejaVu Sans', 'Liberation Sans', sans-serif" stroke="#333" stroke-width="0.1" >0.00</text>
<line x1="333.8" y1="83.3" x2="333.8" y2="84.1" stroke="#333" stroke-width="0.35" />
<text x="333.8" y="86.8" font-size="2.35" text-anchor="middle" fill="#333" font-weight="normal" font-style="normal" font-family="'DejaVu Sans', 'Liberation Sans', sans-serif" stroke="#333" stroke-width="0.1" >0.25</text>
<line x1="347.2" y1="83.3" x2="347.2" y2="84.1" stroke="#333" stroke-width="0.35" />
<text x="347.2" y="86.8" font-size="2.35" text-anchor="middle" fill="#333" font-weight="normal" font-style="normal" font-family="'DejaVu Sans', 'Liberation Sans', sans-serif" stroke="#333" stroke-width="0.1" >0.50</text>
<line x1="360.6" y1="83.3" x2="360.6" y2="84.1" stroke="#333" stroke-width="0.35" />
<text x="360.6" y="86.8" font-size="2.35" text-anchor="middle" fill="#333" font-weight="normal" font-style="normal" font-family="'DejaVu Sans', 'Liberation Sans', sans-serif" stroke="#333" stroke-width="0.1" >0.75</text>
<line x1="374" y1="83.3" x2="374" y2="84.1" stroke="#333" stroke-width="0.35" />
<text x="374" y="86.8" font-size="2.35" text-anchor="middle" fill="#333" font-weight="normal" font-style="normal" font-family="'DejaVu Sans', 'Liberation Sans', sans-serif" stroke="#333" stroke-width="0.1" >1.00</text>
<text x="347.2" y="91.7" font-size="4.2" text-anchor="middle" fill="#333" font-weight="normal" font-style="normal" font-family="'DejaVu Sans', 'Liberation Sans', sans-serif" stroke="#333" stroke-width="0.1" >x</text>
<text x="310.63" y="75.75" font-size="4.8" textLength="8.4" lengthAdjust="spacingAndGlyphs" fill="#333" font-weight="normal" font-style="italic" font-family="'Liberation Serif', 'DejaVu Serif', serif" stroke="#333" stroke-width="0.15" transform="rotate(-90 310.63 75.75)">f(x)</text>
<defs><linearGradient id="gA" gradientUnits="userSpaceOnUse" x1="76" x2="135" y1="0" y2="0"><stop offset="0" stop-color="#a2481a"/><stop offset="0.15" stop-color="#b85e2c"/><stop offset="0.32" stop-color="#c9743e"/><stop offset="0.5" stop-color="#d38a54"/><stop offset="0.66" stop-color="#d6a474"/><stop offset="0.81" stop-color="#d9bc94"/><stop offset="1" stop-color="#e0d4b8"/></linearGradient><linearGradient id="gB" gradientUnits="userSpaceOnUse" x1="160" x2="214" y1="0" y2="0"><stop offset="0" stop-color="#b8161a"/><stop offset="0.38" stop-color="#e2481c"/><stop offset="0.55" stop-color="#f3761c"/><stop offset="0.75" stop-color="#f8a02a"/><stop offset="1" stop-color="#fccf4a"/></linearGradient></defs>
<line x1="88.4" y1="104.9" x2="88.4" y2="158.4" stroke="#ebebeb" stroke-width="0.4" />
<line x1="106.1" y1="104.9" x2="106.1" y2="158.4" stroke="#ebebeb" stroke-width="0.4" />
<line x1="124.7" y1="104.9" x2="124.7" y2="158.4" stroke="#ebebeb" stroke-width="0.4" />
<line x1="75.6" y1="110" x2="135.3" y2="110" stroke="#ebebeb" stroke-width="0.4" />
<line x1="75.6" y1="120.7" x2="135.3" y2="120.7" stroke="#ebebeb" stroke-width="0.4" />
<line x1="75.6" y1="130.8" x2="135.3" y2="130.8" stroke="#ebebeb" stroke-width="0.4" />
<line x1="75.6" y1="140.7" x2="135.3" y2="140.7" stroke="#ebebeb" stroke-width="0.4" />
<path d="M75.9,158.4 L75.9,158.02 L76.27,157.97 L76.64,157.92 L77.01,157.86 L77.38,157.8 L77.75,157.73 L78.12,157.65 L78.49,157.56 L78.85,157.46 L79.22,157.36 L79.59,157.24 L79.96,157.11 L80.33,156.97 L80.7,156.82 L81.07,156.66 L81.44,156.48 L81.81,156.28 L82.18,156.07 L82.55,155.84 L82.92,155.59 L83.29,155.32 L83.66,155.04 L84.03,154.73 L84.4,154.39 L84.76,154.04 L85.13,153.66 L85.5,153.25 L85.87,152.81 L86.24,152.35 L86.61,151.86 L86.98,151.34 L87.35,150.79 L87.72,150.21 L88.09,149.59 L88.46,148.95 L88.83,148.27 L89.2,147.56 L89.57,146.81 L89.94,146.04 L90.31,145.23 L90.67,144.38 L91.04,143.51 L91.41,142.6 L91.78,141.66 L92.15,140.69 L92.52,139.69 L92.89,138.67 L93.26,137.62 L93.63,136.54 L94,135.44 L94.37,134.32 L94.74,133.19 L95.11,132.04 L95.48,130.87 L95.85,129.7 L96.22,128.52 L96.58,127.33 L96.95,126.15 L97.32,124.97 L97.69,123.79 L98.06,122.63 L98.43,121.48 L98.8,120.35 L99.17,119.24 L99.54,118.16 L99.91,117.11 L100.28,116.09 L100.65,115.11 L101.02,114.17 L101.39,113.28 L101.76,112.43 L102.13,111.64 L102.5,110.9 L102.86,110.22 L103.23,109.6 L103.6,109.04 L103.97,108.56 L104.34,108.13 L104.71,107.78 L105.08,107.5 L105.45,107.3 L105.82,107.16 L106.19,107.1 L106.56,107.12 L106.93,107.21 L107.3,107.37 L107.67,107.61 L108.04,107.91 L108.41,108.29 L108.77,108.74 L109.14,109.26 L109.51,109.84 L109.88,110.48 L110.25,111.19 L110.62,111.95 L110.99,112.76 L111.36,113.63 L111.73,114.54 L112.1,115.49 L112.47,116.49 L112.84,117.52 L113.21,118.59 L113.58,119.68 L113.95,120.8 L114.31,121.94 L114.68,123.09 L115.05,124.26 L115.42,125.44 L115.79,126.62 L116.16,127.8 L116.53,128.99 L116.9,130.17 L117.27,131.34 L117.64,132.5 L118.01,133.64 L118.38,134.77 L118.75,135.88 L119.12,136.97 L119.49,138.04 L119.86,139.08 L120.22,140.09 L120.59,141.08 L120.96,142.04 L121.33,142.96 L121.7,143.86 L122.07,144.72 L122.44,145.55 L122.81,146.35 L123.18,147.11 L123.55,147.85 L123.92,148.54 L124.29,149.21 L124.66,149.84 L125.03,150.44 L125.4,151.01 L125.77,151.55 L126.13,152.06 L126.5,152.54 L126.87,152.99 L127.24,153.41 L127.61,153.81 L127.98,154.18 L128.35,154.53 L128.72,154.85 L129.09,155.15 L129.46,155.43 L129.83,155.69 L130.2,155.93 L130.57,156.16 L130.94,156.36 L131.31,156.55 L131.68,156.72 L132.04,156.88 L132.41,157.03 L132.78,157.17 L133.15,157.29 L133.52,157.4 L133.89,157.5 L134.26,157.6 L134.63,157.68 L135,157.76 L135,158.4 Z" fill="url(#gA)"/>
<rect x="75.5" y="104.5" width="60" height="54" rx="0" fill="none" stroke="#aaa" stroke-width="0.75" />
<line x1="74.7" y1="113.6" x2="75.6" y2="113.6" stroke="#777" stroke-width="0.4" />
<text x="74.5" y="115.33" font-size="4.8" text-anchor="end" textLength="7" lengthAdjust="spacingAndGlyphs" fill="#262626" font-weight="normal" font-style="normal" font-family="'Liberation Sans', 'DejaVu Sans', sans-serif" stroke="#262626" stroke-width="0.14">100</text>
<line x1="74.7" y1="136" x2="75.6" y2="136" stroke="#777" stroke-width="0.4" />
<text x="74.5" y="137.73" font-size="4.8" text-anchor="end" textLength="4.5" lengthAdjust="spacingAndGlyphs" fill="#262626" font-weight="normal" font-style="normal" font-family="'Liberation Sans', 'DejaVu Sans', sans-serif" stroke="#262626" stroke-width="0.14">50</text>
<line x1="74.7" y1="158.4" x2="75.6" y2="158.4" stroke="#777" stroke-width="0.4" />
<text x="74.5" y="160.13" font-size="4.8" text-anchor="end" textLength="2.3" lengthAdjust="spacingAndGlyphs" fill="#262626" font-weight="normal" font-style="normal" font-family="'Liberation Sans', 'DejaVu Sans', sans-serif" stroke="#262626" stroke-width="0.14">0</text>
<line x1="78.9" y1="158.4" x2="78.9" y2="159.3" stroke="#777" stroke-width="0.4" />
<text x="78.9" y="164.38" font-size="4.4" text-anchor="middle" fill="#262626" font-weight="normal" font-style="normal" font-family="'Liberation Sans', 'DejaVu Sans', sans-serif" stroke="#262626" stroke-width="0.14" >−60</text>
<line x1="92.6" y1="158.4" x2="92.6" y2="159.3" stroke="#777" stroke-width="0.4" />
<text x="92.6" y="164.38" font-size="4.4" text-anchor="middle" fill="#262626" font-weight="normal" font-style="normal" font-family="'Liberation Sans', 'DejaVu Sans', sans-serif" stroke="#262626" stroke-width="0.14" >−30</text>
<line x1="106.3" y1="158.4" x2="106.3" y2="159.3" stroke="#777" stroke-width="0.4" />
<text x="106.3" y="164.38" font-size="4.4" text-anchor="middle" fill="#262626" font-weight="normal" font-style="normal" font-family="'Liberation Sans', 'DejaVu Sans', sans-serif" stroke="#262626" stroke-width="0.14" >0</text>
<line x1="120" y1="158.4" x2="120" y2="159.3" stroke="#777" stroke-width="0.4" />
<text x="120" y="164.38" font-size="4.4" text-anchor="middle" fill="#262626" font-weight="normal" font-style="normal" font-family="'Liberation Sans', 'DejaVu Sans', sans-serif" stroke="#262626" stroke-width="0.14" >30</text>
<line x1="133.7" y1="158.4" x2="133.7" y2="159.3" stroke="#777" stroke-width="0.4" />
<text x="133.7" y="164.38" font-size="4.4" text-anchor="middle" fill="#262626" font-weight="normal" font-style="normal" font-family="'Liberation Sans', 'DejaVu Sans', sans-serif" stroke="#262626" stroke-width="0.14" >60</text>
<text x="92.5" y="169.2" font-size="5" text-anchor="start" textLength="25.8" lengthAdjust="spacingAndGlyphs" fill="#2a2a2a" font-weight="normal" font-style="normal" font-family="'Liberation Sans', 'DejaVu Sans', sans-serif" stroke="#2a2a2a" stroke-width="0.08">frequencies</text>
<text x="68.66" y="139.4" font-size="4.9" textLength="15" lengthAdjust="spacingAndGlyphs" fill="#2a2a2a" font-weight="normal" font-style="normal" font-family="'Liberation Sans', 'DejaVu Sans', sans-serif" stroke="#2a2a2a" stroke-width="0.08" transform="rotate(-90 68.66 139.4)">counts</text>
<text x="66" y="104.06" font-size="4.6" text-anchor="start" textLength="6.4" lengthAdjust="spacingAndGlyphs" fill="#222" font-weight="bold" font-style="normal" font-family="'Liberation Sans', 'DejaVu Sans', sans-serif" stroke="#222" stroke-width="0.15">(a)</text>
<text x="87.1" y="103.71" font-size="4.2" text-anchor="start" textLength="35.4" lengthAdjust="spacingAndGlyphs" fill="#1a1a1a" font-weight="bold" font-style="normal" font-family="'Liberation Sans', 'DejaVu Sans', sans-serif" stroke="#1a1a1a" stroke-width="0.18">mode spectrum Γ</text>
<line x1="175.57" y1="104.8" x2="175.57" y2="157.9" stroke="#e4e4e4" stroke-width="0.4" />
<line x1="198.23" y1="104.8" x2="198.23" y2="157.9" stroke="#e4e4e4" stroke-width="0.4" />
<line x1="157" y1="108.5" x2="216.5" y2="108.5" stroke="#e4e4e4" stroke-width="0.4" />
<line x1="157" y1="118.4" x2="216.5" y2="118.4" stroke="#e4e4e4" stroke-width="0.4" />
<path d="M157.3,157.9 L157.3,157.89 L157.67,157.88 L158.04,157.88 L158.4,157.88 L158.77,157.87 L159.14,157.86 L159.51,157.86 L159.88,157.85 L160.25,157.84 L160.61,157.82 L160.98,157.81 L161.35,157.79 L161.72,157.77 L162.09,157.74 L162.45,157.71 L162.82,157.68 L163.19,157.64 L163.56,157.6 L163.93,157.54 L164.29,157.48 L164.66,157.41 L165.03,157.33 L165.4,157.24 L165.77,157.14 L166.14,157.02 L166.5,156.88 L166.87,156.73 L167.24,156.56 L167.61,156.37 L167.98,156.15 L168.34,155.91 L168.71,155.64 L169.08,155.34 L169.45,155.01 L169.82,154.64 L170.18,154.24 L170.55,153.79 L170.92,153.31 L171.29,152.78 L171.66,152.2 L172.03,151.58 L172.39,150.9 L172.76,150.18 L173.13,149.39 L173.5,148.56 L173.87,147.66 L174.23,146.71 L174.6,145.71 L174.97,144.64 L175.34,143.52 L175.71,142.35 L176.07,141.12 L176.44,139.84 L176.81,138.51 L177.18,137.13 L177.55,135.72 L177.91,134.27 L178.28,132.79 L178.65,131.28 L179.02,129.76 L179.39,128.22 L179.76,126.68 L180.12,125.14 L180.49,123.62 L180.86,122.11 L181.23,120.63 L181.6,119.19 L181.96,117.8 L182.33,116.46 L182.7,115.19 L183.07,113.98 L183.44,112.86 L183.81,111.83 L184.17,110.9 L184.54,110.06 L184.91,109.34 L185.28,108.73 L185.65,108.24 L186.01,107.87 L186.38,107.63 L186.75,107.51 L187.12,107.52 L187.49,107.66 L187.85,107.93 L188.22,108.32 L188.59,108.83 L188.96,109.46 L189.33,110.21 L189.69,111.06 L190.06,112.02 L190.43,113.06 L190.8,114.2 L191.17,115.42 L191.54,116.7 L191.9,118.05 L192.27,119.45 L192.64,120.9 L193.01,122.39 L193.38,123.9 L193.74,125.43 L194.11,126.96 L194.48,128.51 L194.85,130.04 L195.22,131.56 L195.58,133.06 L195.95,134.54 L196.32,135.98 L196.69,137.39 L197.06,138.76 L197.43,140.08 L197.79,141.35 L198.16,142.57 L198.53,143.73 L198.9,144.84 L199.27,145.9 L199.63,146.89 L200,147.83 L200.37,148.72 L200.74,149.54 L201.11,150.31 L201.47,151.03 L201.84,151.7 L202.21,152.31 L202.58,152.88 L202.95,153.4 L203.32,153.88 L203.68,154.31 L204.05,154.71 L204.42,155.07 L204.79,155.4 L205.16,155.69 L205.52,155.95 L205.89,156.19 L206.26,156.4 L206.63,156.59 L207,156.76 L207.37,156.91 L207.73,157.04 L208.1,157.16 L208.47,157.26 L208.84,157.35 L209.21,157.43 L209.57,157.49 L209.94,157.55 L210.31,157.61 L210.68,157.65 L211.05,157.69 L211.41,157.72 L211.78,157.75 L212.15,157.77 L212.52,157.79 L212.89,157.81 L213.25,157.83 L213.62,157.84 L213.99,157.85 L214.36,157.86 L214.73,157.86 L215.1,157.87 L215.46,157.88 L215.83,157.88 L216.2,157.88 L216.2,157.9 Z" fill="url(#gB)"/>
<rect x="157.5" y="104.5" width="59" height="53" rx="0" fill="none" stroke="#aaa" stroke-width="0.75" />
<line x1="156.1" y1="109.2" x2="157" y2="109.2" stroke="#666" stroke-width="0.35" />
<text x="140.8" y="110.65" font-size="4.4" fill="#2a2a2a" stroke="#2a2a2a" stroke-width="0.16" font-family="'Liberation Serif', 'DejaVu Serif', serif" textLength="14.8" lengthAdjust="spacingAndGlyphs">2.5×10<tspan dy="-1.6" font-size="2.7">5</tspan></text>
<line x1="156.1" y1="119" x2="157" y2="119" stroke="#666" stroke-width="0.35" />
<text x="140.8" y="120.45" font-size="4.4" fill="#2a2a2a" stroke="#2a2a2a" stroke-width="0.16" font-family="'Liberation Serif', 'DejaVu Serif', serif" textLength="14.8" lengthAdjust="spacingAndGlyphs">2.0×10<tspan dy="-1.6" font-size="2.7">5</tspan></text>
<line x1="156.1" y1="128.8" x2="157" y2="128.8" stroke="#666" stroke-width="0.35" />
<text x="140.8" y="130.25" font-size="4.4" fill="#2a2a2a" stroke="#2a2a2a" stroke-width="0.16" font-family="'Liberation Serif', 'DejaVu Serif', serif" textLength="14.8" lengthAdjust="spacingAndGlyphs">1.5×10<tspan dy="-1.6" font-size="2.7">5</tspan></text>
<line x1="156.1" y1="138.6" x2="157" y2="138.6" stroke="#666" stroke-width="0.35" />
<text x="140.8" y="140.05" font-size="4.4" fill="#2a2a2a" stroke="#2a2a2a" stroke-width="0.16" font-family="'Liberation Serif', 'DejaVu Serif', serif" textLength="14.8" lengthAdjust="spacingAndGlyphs">1.0×10<tspan dy="-1.6" font-size="2.7">5</tspan></text>
<line x1="156.1" y1="148.4" x2="157" y2="148.4" stroke="#666" stroke-width="0.35" />
<text x="140.8" y="149.85" font-size="4.4" fill="#2a2a2a" stroke="#2a2a2a" stroke-width="0.16" font-family="'Liberation Serif', 'DejaVu Serif', serif" textLength="14.8" lengthAdjust="spacingAndGlyphs">0.5×10<tspan dy="-1.6" font-size="2.7">5</tspan></text>
<line x1="156.5" y1="158.2" x2="157" y2="158.2" stroke="#888" stroke-width="0.25" />
<line x1="156.5" y1="156.24" x2="157" y2="156.24" stroke="#888" stroke-width="0.25" />
<line x1="156.5" y1="154.28" x2="157" y2="154.28" stroke="#888" stroke-width="0.25" />
<line x1="156.5" y1="152.32" x2="157" y2="152.32" stroke="#888" stroke-width="0.25" />
<line x1="156.5" y1="150.36" x2="157" y2="150.36" stroke="#888" stroke-width="0.25" />
<line x1="156.5" y1="148.4" x2="157" y2="148.4" stroke="#888" stroke-width="0.25" />
<line x1="156.5" y1="146.44" x2="157" y2="146.44" stroke="#888" stroke-width="0.25" />
<line x1="156.5" y1="144.48" x2="157" y2="144.48" stroke="#888" stroke-width="0.25" />
<line x1="156.5" y1="142.52" x2="157" y2="142.52" stroke="#888" stroke-width="0.25" />
<line x1="156.5" y1="140.56" x2="157" y2="140.56" stroke="#888" stroke-width="0.25" />
<line x1="156.5" y1="138.6" x2="157" y2="138.6" stroke="#888" stroke-width="0.25" />
<line x1="156.5" y1="136.64" x2="157" y2="136.64" stroke="#888" stroke-width="0.25" />
<line x1="156.5" y1="134.68" x2="157" y2="134.68" stroke="#888" stroke-width="0.25" />
<line x1="156.5" y1="132.72" x2="157" y2="132.72" stroke="#888" stroke-width="0.25" />
<line x1="156.5" y1="130.76" x2="157" y2="130.76" stroke="#888" stroke-width="0.25" />
<line x1="156.5" y1="128.8" x2="157" y2="128.8" stroke="#888" stroke-width="0.25" />
<line x1="156.5" y1="126.84" x2="157" y2="126.84" stroke="#888" stroke-width="0.25" />
<line x1="156.5" y1="124.88" x2="157" y2="124.88" stroke="#888" stroke-width="0.25" />
<line x1="156.5" y1="122.92" x2="157" y2="122.92" stroke="#888" stroke-width="0.25" />
<line x1="156.5" y1="120.96" x2="157" y2="120.96" stroke="#888" stroke-width="0.25" />
<line x1="156.5" y1="119" x2="157" y2="119" stroke="#888" stroke-width="0.25" />
<line x1="156.5" y1="117.04" x2="157" y2="117.04" stroke="#888" stroke-width="0.25" />
<line x1="156.5" y1="115.08" x2="157" y2="115.08" stroke="#888" stroke-width="0.25" />
<line x1="156.5" y1="113.12" x2="157" y2="113.12" stroke="#888" stroke-width="0.25" />
<line x1="156.5" y1="111.16" x2="157" y2="111.16" stroke="#888" stroke-width="0.25" />
<line x1="156.5" y1="109.2" x2="157" y2="109.2" stroke="#888" stroke-width="0.25" />
<line x1="156.5" y1="107.24" x2="157" y2="107.24" stroke="#888" stroke-width="0.25" />
<line x1="156.1" y1="157.9" x2="157" y2="157.9" stroke="#666" stroke-width="0.35" />
<text x="155.7" y="159.3" font-size="4" text-anchor="end" fill="#333" font-weight="normal" font-style="normal" font-family="'Liberation Serif', 'DejaVu Serif', serif" >0</text>
<line x1="159.7" y1="157.9" x2="159.7" y2="158.8" stroke="#777" stroke-width="0.4" />
<text x="159.7" y="164.38" font-size="4.4" text-anchor="middle" fill="#262626" font-weight="normal" font-style="normal" font-family="'Liberation Sans', 'DejaVu Sans', sans-serif" stroke="#262626" stroke-width="0.14" >−120</text>
<line x1="173.3" y1="157.9" x2="173.3" y2="158.8" stroke="#777" stroke-width="0.4" />
<text x="173.3" y="164.38" font-size="4.4" text-anchor="middle" fill="#262626" font-weight="normal" font-style="normal" font-family="'Liberation Sans', 'DejaVu Sans', sans-serif" stroke="#262626" stroke-width="0.14" >−60</text>
<line x1="186.9" y1="157.9" x2="186.9" y2="158.8" stroke="#777" stroke-width="0.4" />
<text x="186.9" y="164.38" font-size="4.4" text-anchor="middle" fill="#262626" font-weight="normal" font-style="normal" font-family="'Liberation Sans', 'DejaVu Sans', sans-serif" stroke="#262626" stroke-width="0.14" >0</text>
<line x1="200.5" y1="157.9" x2="200.5" y2="158.8" stroke="#777" stroke-width="0.4" />
<text x="200.5" y="164.38" font-size="4.4" text-anchor="middle" fill="#262626" font-weight="normal" font-style="normal" font-family="'Liberation Sans', 'DejaVu Sans', sans-serif" stroke="#262626" stroke-width="0.14" >60</text>
<line x1="214.1" y1="157.9" x2="214.1" y2="158.8" stroke="#777" stroke-width="0.4" />
<text x="214.1" y="164.38" font-size="4.4" text-anchor="middle" fill="#262626" font-weight="normal" font-style="normal" font-family="'Liberation Sans', 'DejaVu Sans', sans-serif" stroke="#262626" stroke-width="0.14" >120</text>
<text x="173.3" y="169.8" font-size="5" text-anchor="start" textLength="26.5" lengthAdjust="spacingAndGlyphs" fill="#2a2a2a" font-weight="normal" font-style="normal" font-family="'Liberation Sans', 'DejaVu Sans', sans-serif" stroke="#2a2a2a" stroke-width="0.08">frequencies</text>
<text x="139.26" y="139.8" font-size="4.9" textLength="15" lengthAdjust="spacingAndGlyphs" fill="#2a2a2a" font-weight="normal" font-style="normal" font-family="'Liberation Sans', 'DejaVu Sans', sans-serif" stroke="#2a2a2a" stroke-width="0.08" transform="rotate(-90 139.26 139.8)">counts</text>
<text x="140.9" y="102.96" font-size="4.6" text-anchor="start" textLength="6.7" lengthAdjust="spacingAndGlyphs" fill="#222" font-weight="bold" font-style="normal" font-family="'Liberation Sans', 'DejaVu Sans', sans-serif" stroke="#222" stroke-width="0.15">(b)</text>
<text x="169.9" y="103.11" font-size="4.2" text-anchor="start" textLength="34" lengthAdjust="spacingAndGlyphs" fill="#1a1a1a" font-weight="bold" font-style="normal" font-family="'Liberation Sans', 'DejaVu Sans', sans-serif" stroke="#1a1a1a" stroke-width="0.18">gap spectrum Ω</text>
<line x1="81.6" y1="182" x2="81.6" y2="236.6" stroke="#ececec" stroke-width="0.4" />
<line x1="94.55" y1="182" x2="94.55" y2="236.6" stroke="#ececec" stroke-width="0.4" />
<line x1="107.5" y1="182" x2="107.5" y2="236.6" stroke="#ececec" stroke-width="0.4" />
<line x1="120.45" y1="182" x2="120.45" y2="236.6" stroke="#ececec" stroke-width="0.4" />
<line x1="133.4" y1="182" x2="133.4" y2="236.6" stroke="#ececec" stroke-width="0.4" />
<line x1="76.3" y1="226.8" x2="136.2" y2="226.8" stroke="#ececec" stroke-width="0.4" />
<line x1="76.3" y1="217.5" x2="136.2" y2="217.5" stroke="#ececec" stroke-width="0.4" />
<line x1="76.3" y1="208.2" x2="136.2" y2="208.2" stroke="#ececec" stroke-width="0.4" />
<line x1="76.3" y1="198.9" x2="136.2" y2="198.9" stroke="#ececec" stroke-width="0.4" />
<line x1="76.3" y1="189.6" x2="136.2" y2="189.6" stroke="#ececec" stroke-width="0.4" />
<rect x="80.31" y="231.45" width="2.59" height="4.65" rx="0" fill="rgb(196,202,226)" stroke="#7590a8" stroke-width="0.35" />
<rect x="82.9" y="226.8" width="2.59" height="9.3" rx="0" fill="rgb(191,200,223)" stroke="#7590a8" stroke-width="0.35" />
<rect x="85.48" y="222.15" width="2.59" height="13.95" rx="0" fill="rgb(187,198,221)" stroke="#7590a8" stroke-width="0.35" />
<rect x="88.08" y="217.5" width="2.59" height="18.6" rx="0" fill="rgb(182,197,218)" stroke="#7590a8" stroke-width="0.35" />
<rect x="90.66" y="212.85" width="2.59" height="23.25" rx="0" fill="rgb(178,195,216)" stroke="#7590a8" stroke-width="0.35" />
<rect x="93.25" y="208.2" width="2.59" height="27.9" rx="0" fill="rgb(173,193,213)" stroke="#7590a8" stroke-width="0.35" />
<rect x="95.84" y="203.55" width="2.59" height="32.55" rx="0" fill="rgb(168,191,210)" stroke="#7590a8" stroke-width="0.35" />
<rect x="98.44" y="198.9" width="2.59" height="37.2" rx="0" fill="rgb(164,189,208)" stroke="#7590a8" stroke-width="0.35" />
<rect x="101.03" y="194.25" width="2.59" height="41.85" rx="0" fill="rgb(159,188,205)" stroke="#7590a8" stroke-width="0.35" />
<rect x="103.61" y="189.6" width="2.59" height="46.5" rx="0" fill="rgb(155,186,203)" stroke="#7590a8" stroke-width="0.35" />
<rect x="106.2" y="184.95" width="2.59" height="51.15" rx="0" fill="rgb(150,184,200)" stroke="#7590a8" stroke-width="0.35" />
<rect x="108.8" y="189.6" width="2.59" height="46.5" rx="0" fill="rgb(145,181,198)" stroke="#7590a8" stroke-width="0.35" />
<rect x="111.39" y="194.25" width="2.59" height="41.85" rx="0" fill="rgb(140,177,196)" stroke="#7590a8" stroke-width="0.35" />
<rect x="113.97" y="198.9" width="2.59" height="37.2" rx="0" fill="rgb(134,174,193)" stroke="#7590a8" stroke-width="0.35" />
<rect x="116.56" y="203.55" width="2.59" height="32.55" rx="0" fill="rgb(129,170,191)" stroke="#7590a8" stroke-width="0.35" />
<rect x="119.16" y="208.2" width="2.59" height="27.9" rx="0" fill="rgb(124,167,189)" stroke="#7590a8" stroke-width="0.35" />
<rect x="121.75" y="212.85" width="2.59" height="23.25" rx="0" fill="rgb(119,164,187)" stroke="#7590a8" stroke-width="0.35" />
<rect x="124.34" y="217.5" width="2.59" height="18.6" rx="0" fill="rgb(114,160,185)" stroke="#7590a8" stroke-width="0.35" />
<rect x="126.92" y="222.15" width="2.59" height="13.95" rx="0" fill="rgb(108,157,182)" stroke="#7590a8" stroke-width="0.35" />
<rect x="129.51" y="226.8" width="2.59" height="9.3" rx="0" fill="rgb(103,153,180)" stroke="#7590a8" stroke-width="0.35" />
<rect x="132.1" y="231.45" width="2.59" height="4.65" rx="0" fill="rgb(98,150,178)" stroke="#7590a8" stroke-width="0.35" />
<rect x="76.5" y="182.5" width="60" height="54" rx="0" fill="none" stroke="#aaa" stroke-width="0.75" />
<line x1="75.8" y1="231.45" x2="76.3" y2="231.45" stroke="#888" stroke-width="0.3" />
<line x1="75.8" y1="222.15" x2="76.3" y2="222.15" stroke="#888" stroke-width="0.3" />
<line x1="75.8" y1="212.85" x2="76.3" y2="212.85" stroke="#888" stroke-width="0.3" />
<line x1="75.8" y1="203.55" x2="76.3" y2="203.55" stroke="#888" stroke-width="0.3" />
<line x1="75.8" y1="194.25" x2="76.3" y2="194.25" stroke="#888" stroke-width="0.3" />
<line x1="75.8" y1="184.95" x2="76.3" y2="184.95" stroke="#888" stroke-width="0.3" />
<line x1="75.4" y1="236.1" x2="76.3" y2="236.1" stroke="#777" stroke-width="0.4" />
<text x="75.2" y="237.83" font-size="4.8" text-anchor="end" textLength="2.3" lengthAdjust="spacingAndGlyphs" fill="#262626" font-weight="normal" font-style="normal" font-family="'Liberation Sans', 'DejaVu Sans', sans-serif" stroke="#262626" stroke-width="0.14">0</text>
<line x1="75.4" y1="226.8" x2="76.3" y2="226.8" stroke="#777" stroke-width="0.4" />
<text x="75.2" y="228.53" font-size="4.8" text-anchor="end" textLength="2.3" lengthAdjust="spacingAndGlyphs" fill="#262626" font-weight="normal" font-style="normal" font-family="'Liberation Sans', 'DejaVu Sans', sans-serif" stroke="#262626" stroke-width="0.14">2</text>
<line x1="75.4" y1="217.5" x2="76.3" y2="217.5" stroke="#777" stroke-width="0.4" />
<text x="75.2" y="219.23" font-size="4.8" text-anchor="end" textLength="2.3" lengthAdjust="spacingAndGlyphs" fill="#262626" font-weight="normal" font-style="normal" font-family="'Liberation Sans', 'DejaVu Sans', sans-serif" stroke="#262626" stroke-width="0.14">4</text>
<line x1="75.4" y1="208.2" x2="76.3" y2="208.2" stroke="#777" stroke-width="0.4" />
<text x="75.2" y="209.93" font-size="4.8" text-anchor="end" textLength="2.3" lengthAdjust="spacingAndGlyphs" fill="#262626" font-weight="normal" font-style="normal" font-family="'Liberation Sans', 'DejaVu Sans', sans-serif" stroke="#262626" stroke-width="0.14">6</text>
<line x1="75.4" y1="198.9" x2="76.3" y2="198.9" stroke="#777" stroke-width="0.4" />
<text x="75.2" y="200.63" font-size="4.8" text-anchor="end" textLength="2.3" lengthAdjust="spacingAndGlyphs" fill="#262626" font-weight="normal" font-style="normal" font-family="'Liberation Sans', 'DejaVu Sans', sans-serif" stroke="#262626" stroke-width="0.14">8</text>
<line x1="75.4" y1="189.6" x2="76.3" y2="189.6" stroke="#777" stroke-width="0.4" />
<text x="75.2" y="191.33" font-size="4.8" text-anchor="end" textLength="4.5" lengthAdjust="spacingAndGlyphs" fill="#262626" font-weight="normal" font-style="normal" font-family="'Liberation Sans', 'DejaVu Sans', sans-serif" stroke="#262626" stroke-width="0.14">10</text>
<line x1="81.6" y1="236.6" x2="81.6" y2="237.5" stroke="#777" stroke-width="0.4" />
<text x="81.6" y="241.78" font-size="4.4" text-anchor="middle" fill="#262626" font-weight="normal" font-style="normal" font-family="'Liberation Sans', 'DejaVu Sans', sans-serif" stroke="#262626" stroke-width="0.14" >−20</text>
<line x1="94.55" y1="236.6" x2="94.55" y2="237.5" stroke="#777" stroke-width="0.4" />
<text x="94.55" y="241.78" font-size="4.4" text-anchor="middle" fill="#262626" font-weight="normal" font-style="normal" font-family="'Liberation Sans', 'DejaVu Sans', sans-serif" stroke="#262626" stroke-width="0.14" >−10</text>
<line x1="107.5" y1="236.6" x2="107.5" y2="237.5" stroke="#777" stroke-width="0.4" />
<text x="107.5" y="241.78" font-size="4.4" text-anchor="middle" fill="#262626" font-weight="normal" font-style="normal" font-family="'Liberation Sans', 'DejaVu Sans', sans-serif" stroke="#262626" stroke-width="0.14" >0</text>
<line x1="120.45" y1="236.6" x2="120.45" y2="237.5" stroke="#777" stroke-width="0.4" />
<text x="120.45" y="241.78" font-size="4.4" text-anchor="middle" fill="#262626" font-weight="normal" font-style="normal" font-family="'Liberation Sans', 'DejaVu Sans', sans-serif" stroke="#262626" stroke-width="0.14" >10</text>
<line x1="133.4" y1="236.6" x2="133.4" y2="237.5" stroke="#777" stroke-width="0.4" />
<text x="133.4" y="241.78" font-size="4.4" text-anchor="middle" fill="#262626" font-weight="normal" font-style="normal" font-family="'Liberation Sans', 'DejaVu Sans', sans-serif" stroke="#262626" stroke-width="0.14" >20</text>
<text x="91.7" y="249.2" font-size="5" text-anchor="start" textLength="27.8" lengthAdjust="spacingAndGlyphs" fill="#2a2a2a" font-weight="normal" font-style="normal" font-family="'Liberation Sans', 'DejaVu Sans', sans-serif" stroke="#2a2a2a" stroke-width="0.08">frequencies</text>
<text x="68.56" y="217.5" font-size="4.9" textLength="15" lengthAdjust="spacingAndGlyphs" fill="#2a2a2a" font-weight="normal" font-style="normal" font-family="'Liberation Sans', 'DejaVu Sans', sans-serif" stroke="#2a2a2a" stroke-width="0.08" transform="rotate(-90 68.56 217.5)">counts</text>
<text x="65.9" y="179.86" font-size="4.6" text-anchor="start" textLength="6.3" lengthAdjust="spacingAndGlyphs" fill="#222" font-weight="bold" font-style="normal" font-family="'Liberation Sans', 'DejaVu Sans', sans-serif" stroke="#222" stroke-width="0.15">(c)</text>
<text x="87" y="179.68" font-size="4.2" fill="#1a1a1a" stroke="#1a1a1a" stroke-width="0.18" font-weight="bold" font-family="'Liberation Sans', 'DejaVu Sans', sans-serif" textLength="36.6" lengthAdjust="spacingAndGlyphs">gap spectrum Ω<tspan font-size="2.8" dy="0.9">R</tspan></text>
<line x1="167.1" y1="182.5" x2="167.1" y2="238.5" stroke="#ececec" stroke-width="0.4" />
<line x1="179.2" y1="182.5" x2="179.2" y2="238.5" stroke="#ececec" stroke-width="0.4" />
<line x1="191.3" y1="182.5" x2="191.3" y2="238.5" stroke="#ececec" stroke-width="0.4" />
<line x1="203.4" y1="182.5" x2="203.4" y2="238.5" stroke="#ececec" stroke-width="0.4" />
<line x1="154.4" y1="226.6" x2="216.8" y2="226.6" stroke="#ececec" stroke-width="0.4" />
<line x1="154.4" y1="214.3" x2="216.8" y2="214.3" stroke="#ececec" stroke-width="0.4" />
<line x1="154.4" y1="202" x2="216.8" y2="202" stroke="#ececec" stroke-width="0.4" />
<line x1="154.4" y1="189.7" x2="216.8" y2="189.7" stroke="#ececec" stroke-width="0.4" />
<path d="M155,229.4 L156.03,228.55 L157.05,227.74 L158.08,226.94 L159.1,226.15 L160.13,225.37 L161.15,224.59 L162.18,223.81 L163.2,223.04 L164.23,222.27 L165.25,221.5 L166.28,220.73 L167.31,219.97 L168.33,219.21 L169.36,218.45 L170.38,217.69 L171.41,216.94 L172.43,216.18 L173.46,215.43 L174.48,214.67 L175.51,213.92 L176.53,213.17 L177.56,212.42 L178.58,211.68 L179.61,210.93 L180.64,210.18 L181.66,209.44 L182.69,208.69 L183.71,207.95 L184.74,207.21 L185.76,206.46 L186.79,205.72 L187.81,204.98 L188.84,204.24 L189.86,203.5 L190.89,202.77 L191.92,202.03 L192.94,201.29 L193.97,200.55 L194.99,199.82 L196.02,199.08 L197.04,198.35 L198.07,197.61 L199.09,196.88 L200.12,196.15 L201.14,195.41 L202.17,194.68 L203.19,193.95 L204.22,193.22 L205.25,192.49 L206.27,191.76 L207.3,191.03 L208.32,190.3 L209.35,189.57 L210.37,188.84 L211.4,188.11 L212.42,187.38 L213.45,186.65 L214.47,185.93 L215.5,185.2 L215.5,208.7 L214.47,208.9 L213.45,209.11 L212.42,209.31 L211.4,209.52 L210.37,209.73 L209.35,209.95 L208.32,210.16 L207.3,210.38 L206.27,210.61 L205.25,210.83 L204.22,211.06 L203.19,211.29 L202.17,211.53 L201.14,211.77 L200.12,212.01 L199.09,212.26 L198.07,212.51 L197.04,212.76 L196.02,213.02 L194.99,213.28 L193.97,213.55 L192.94,213.82 L191.92,214.09 L190.89,214.37 L189.86,214.66 L188.84,214.95 L187.81,215.24 L186.79,215.54 L185.76,215.85 L184.74,216.16 L183.71,216.47 L182.69,216.8 L181.66,217.13 L180.64,217.46 L179.61,217.81 L178.58,218.16 L177.56,218.52 L176.53,218.88 L175.51,219.26 L174.48,219.64 L173.46,220.03 L172.43,220.44 L171.41,220.85 L170.38,221.27 L169.36,221.7 L168.33,222.15 L167.31,222.61 L166.28,223.08 L165.25,223.56 L164.23,224.06 L163.2,224.58 L162.18,225.11 L161.15,225.66 L160.13,226.22 L159.1,226.81 L158.08,227.42 L157.05,228.06 L156.03,228.71 L155,229.4 Z" fill="#fdd5b4"/>
<path d="M155,235.2 L156.03,234.78 L157.05,234.38 L158.08,234 L159.1,233.63 L160.13,233.27 L161.15,232.92 L162.18,232.59 L163.2,232.26 L164.23,231.95 L165.25,231.65 L166.28,231.35 L167.31,231.07 L168.33,230.79 L169.36,230.52 L170.38,230.25 L171.41,229.99 L172.43,229.74 L173.46,229.5 L174.48,229.26 L175.51,229.03 L176.53,228.8 L177.56,228.58 L178.58,228.36 L179.61,228.14 L180.64,227.93 L181.66,227.73 L182.69,227.53 L183.71,227.33 L184.74,227.14 L185.76,226.95 L186.79,226.76 L187.81,226.58 L188.84,226.4 L189.86,226.23 L190.89,226.05 L191.92,225.88 L192.94,225.72 L193.97,225.55 L194.99,225.39 L196.02,225.23 L197.04,225.07 L198.07,224.92 L199.09,224.77 L200.12,224.62 L201.14,224.47 L202.17,224.32 L203.19,224.18 L204.22,224.04 L205.25,223.9 L206.27,223.76 L207.3,223.62 L208.32,223.49 L209.35,223.36 L210.37,223.23 L211.4,223.1 L212.42,222.97 L213.45,222.85 L214.47,222.72 L215.5,222.6" fill="none" stroke="#5b5bd0" stroke-width="0.95"/>
<path d="M155,229.4 L156.03,228.71 L157.05,228.06 L158.08,227.42 L159.1,226.81 L160.13,226.22 L161.15,225.66 L162.18,225.11 L163.2,224.58 L164.23,224.06 L165.25,223.56 L166.28,223.08 L167.31,222.61 L168.33,222.15 L169.36,221.7 L170.38,221.27 L171.41,220.85 L172.43,220.44 L173.46,220.03 L174.48,219.64 L175.51,219.26 L176.53,218.88 L177.56,218.52 L178.58,218.16 L179.61,217.81 L180.64,217.46 L181.66,217.13 L182.69,216.8 L183.71,216.47 L184.74,216.16 L185.76,215.85 L186.79,215.54 L187.81,215.24 L188.84,214.95 L189.86,214.66 L190.89,214.37 L191.92,214.09 L192.94,213.82 L193.97,213.55 L194.99,213.28 L196.02,213.02 L197.04,212.76 L198.07,212.51 L199.09,212.26 L200.12,212.01 L201.14,211.77 L202.17,211.53 L203.19,211.29 L204.22,211.06 L205.25,210.83 L206.27,210.61 L207.3,210.38 L208.32,210.16 L209.35,209.95 L210.37,209.73 L211.4,209.52 L212.42,209.31 L213.45,209.11 L214.47,208.9 L215.5,208.7" fill="none" stroke="#f5962e" stroke-width="0.95"/>
<path d="M155,229.4 L156.03,228.55 L157.05,227.74 L158.08,226.94 L159.1,226.15 L160.13,225.37 L161.15,224.59 L162.18,223.81 L163.2,223.04 L164.23,222.27 L165.25,221.5 L166.28,220.73 L167.31,219.97 L168.33,219.21 L169.36,218.45 L170.38,217.69 L171.41,216.94 L172.43,216.18 L173.46,215.43 L174.48,214.67 L175.51,213.92 L176.53,213.17 L177.56,212.42 L178.58,211.68 L179.61,210.93 L180.64,210.18 L181.66,209.44 L182.69,208.69 L183.71,207.95 L184.74,207.21 L185.76,206.46 L186.79,205.72 L187.81,204.98 L188.84,204.24 L189.86,203.5 L190.89,202.77 L191.92,202.03 L192.94,201.29 L193.97,200.55 L194.99,199.82 L196.02,199.08 L197.04,198.35 L198.07,197.61 L199.09,196.88 L200.12,196.15 L201.14,195.41 L202.17,194.68 L203.19,193.95 L204.22,193.22 L205.25,192.49 L206.27,191.76 L207.3,191.03 L208.32,190.3 L209.35,189.57 L210.37,188.84 L211.4,188.11 L212.42,187.38 L213.45,186.65 L214.47,185.93 L215.5,185.2" fill="none" stroke="#c83426" stroke-width="0.95"/>
<rect x="154.5" y="182.5" width="62" height="56" rx="0" fill="none" stroke="#aaa" stroke-width="0.75" />
<line x1="153.5" y1="226.6" x2="154.4" y2="226.6" stroke="#666" stroke-width="0.35" />
<text x="153.4" y="228.2" font-size="4.6" text-anchor="end" fill="#333" stroke="#333" stroke-width="0.12" font-family="'Liberation Serif', 'DejaVu Serif', serif">10<tspan dy="-1.9" font-size="3.0">2</tspan></text>
<line x1="153.5" y1="214.3" x2="154.4" y2="214.3" stroke="#666" stroke-width="0.35" />
<text x="153.4" y="215.9" font-size="4.6" text-anchor="end" fill="#333" stroke="#333" stroke-width="0.12" font-family="'Liberation Serif', 'DejaVu Serif', serif">10<tspan dy="-1.9" font-size="3.0">4</tspan></text>
<line x1="153.5" y1="202" x2="154.4" y2="202" stroke="#666" stroke-width="0.35" />
<text x="153.4" y="203.6" font-size="4.6" text-anchor="end" fill="#333" stroke="#333" stroke-width="0.12" font-family="'Liberation Serif', 'DejaVu Serif', serif">10<tspan dy="-1.9" font-size="3.0">6</tspan></text>
<line x1="153.5" y1="189.7" x2="154.4" y2="189.7" stroke="#666" stroke-width="0.35" />
<text x="153.4" y="191.3" font-size="4.6" text-anchor="end" fill="#333" stroke="#333" stroke-width="0.12" font-family="'Liberation Serif', 'DejaVu Serif', serif">10<tspan dy="-1.9" font-size="3.0">8</tspan></text>
<line x1="155" y1="238.5" x2="155" y2="239.4" stroke="#777" stroke-width="0.4" />
<text x="155" y="243.98" font-size="4.4" text-anchor="middle" fill="#262626" font-weight="normal" font-style="normal" font-family="'Liberation Sans', 'DejaVu Sans', sans-serif" stroke="#262626" stroke-width="0.14" >4</text>
<line x1="167.1" y1="238.5" x2="167.1" y2="239.4" stroke="#777" stroke-width="0.4" />
<text x="167.1" y="243.98" font-size="4.4" text-anchor="middle" fill="#262626" font-weight="normal" font-style="normal" font-family="'Liberation Sans', 'DejaVu Sans', sans-serif" stroke="#262626" stroke-width="0.14" >6</text>
<line x1="179.2" y1="238.5" x2="179.2" y2="239.4" stroke="#777" stroke-width="0.4" />
<text x="179.2" y="243.98" font-size="4.4" text-anchor="middle" fill="#262626" font-weight="normal" font-style="normal" font-family="'Liberation Sans', 'DejaVu Sans', sans-serif" stroke="#262626" stroke-width="0.14" >8</text>
<line x1="191.3" y1="238.5" x2="191.3" y2="239.4" stroke="#777" stroke-width="0.4" />
<text x="191.3" y="243.98" font-size="4.4" text-anchor="middle" fill="#262626" font-weight="normal" font-style="normal" font-family="'Liberation Sans', 'DejaVu Sans', sans-serif" stroke="#262626" stroke-width="0.14" >10</text>
<line x1="203.4" y1="238.5" x2="203.4" y2="239.4" stroke="#777" stroke-width="0.4" />
<text x="203.4" y="243.98" font-size="4.4" text-anchor="middle" fill="#262626" font-weight="normal" font-style="normal" font-family="'Liberation Sans', 'DejaVu Sans', sans-serif" stroke="#262626" stroke-width="0.14" >12</text>
<line x1="215.5" y1="238.5" x2="215.5" y2="239.4" stroke="#777" stroke-width="0.4" />
<text x="215.5" y="243.98" font-size="4.4" text-anchor="middle" fill="#262626" font-weight="normal" font-style="normal" font-family="'Liberation Sans', 'DejaVu Sans', sans-serif" stroke="#262626" stroke-width="0.14" >14</text>
<text x="163" y="249.2" font-size="5" text-anchor="start" textLength="44.1" lengthAdjust="spacingAndGlyphs" fill="#2a2a2a" font-weight="normal" font-style="normal" font-family="'Liberation Sans', 'DejaVu Sans', sans-serif" stroke="#2a2a2a" stroke-width="0.08">number of qubits</text>
<text x="145.7" y="217" font-size="5" textLength="17.3" lengthAdjust="spacingAndGlyphs" fill="#2a2a2a" font-weight="normal" font-style="normal" font-family="'Liberation Sans', 'DejaVu Sans', sans-serif" stroke="#2a2a2a" stroke-width="0.08" transform="rotate(-90 145.7 217)">degree</text>
<text x="140.8" y="180.08" font-size="4.4" text-anchor="start" textLength="6.8" lengthAdjust="spacingAndGlyphs" fill="#222" font-weight="bold" font-style="normal" font-family="'Liberation Sans', 'DejaVu Sans', sans-serif" stroke="#222" stroke-width="0.15">(d)</text>
<text x="179.8" y="180.31" font-size="4.2" text-anchor="start" textLength="14.2" lengthAdjust="spacingAndGlyphs" fill="#1a1a1a" font-weight="bold" font-style="normal" font-family="'Liberation Sans', 'DejaVu Sans', sans-serif" stroke="#1a1a1a" stroke-width="0.18">scaling</text>
<line x1="242.2" y1="99.3" x2="242.2" y2="161.3" stroke="#cccccc" stroke-width="0.5" />
<line x1="255.9" y1="99.3" x2="255.9" y2="161.3" stroke="#cccccc" stroke-width="0.5" />
<line x1="269.6" y1="99.3" x2="269.6" y2="161.3" stroke="#cccccc" stroke-width="0.5" />
<line x1="283.3" y1="99.3" x2="283.3" y2="161.3" stroke="#cccccc" stroke-width="0.5" />
<line x1="297" y1="99.3" x2="297" y2="161.3" stroke="#cccccc" stroke-width="0.5" />
<line x1="239.3" y1="158.6" x2="299.7" y2="158.6" stroke="#cccccc" stroke-width="0.5" />
<line x1="239.3" y1="144.3" x2="299.7" y2="144.3" stroke="#cccccc" stroke-width="0.5" />
<line x1="239.3" y1="130" x2="299.7" y2="130" stroke="#cccccc" stroke-width="0.5" />
<line x1="239.3" y1="115.7" x2="299.7" y2="115.7" stroke="#cccccc" stroke-width="0.5" />
<line x1="239.3" y1="101.4" x2="299.7" y2="101.4" stroke="#cccccc" stroke-width="0.5" />
<clipPath id="cc23999"><rect x="239.3" y="99.3" width="60.4" height="62"/></clipPath>
<g clip-path="url(#cc23999)">
<path d="M241.74,158.6 L241.74,158.19 L241.97,157.86 L242.2,158.56 L242.43,158.54 L242.66,158.11 L242.89,157.4 L243.11,158.09 L243.34,157.99 L243.57,157.22 L243.8,157.43 L244.03,157.56 L244.26,157.35 L244.48,157.14 L244.71,157.39 L244.94,157.44 L245.17,157.79 L245.4,156.89 L245.63,157.02 L245.85,156.77 L246.08,157.03 L246.31,157.84 L246.54,157.45 L246.77,157.23 L247,157.38 L247.22,157.58 L247.45,157.45 L247.68,157.83 L247.91,157.41 L248.14,157.4 L248.37,158.07 L248.59,157.81 L248.82,157.98 L249.05,158.14 L249.28,156.64 L249.51,157.21 L249.74,157.14 L249.96,157 L250.19,157.04 L250.42,156.88 L250.65,156.66 L250.88,157.03 L251.11,156.3 L251.33,156.44 L251.56,155.86 L251.79,156.16 L252.02,156.1 L252.25,155.46 L252.48,155.35 L252.7,155.96 L252.93,155.26 L253.16,155.42 L253.39,155.01 L253.62,155.96 L253.85,156.5 L254.07,156.19 L254.3,156.34 L254.53,156.76 L254.76,157.5 L254.99,157.17 L255.22,157.53 L255.44,157.55 L255.67,157.14 L255.9,157.68 L256.13,157.81 L256.36,156.79 L256.59,157.69 L256.81,156.39 L257.04,153.24 L257.27,150.8 L257.5,153.02 L257.73,155.98 L257.96,157.1 L258.18,158.01 L258.41,158.44 L258.64,157.96 L258.87,156.84 L259.1,157.06 L259.33,157.93 L259.55,157.74 L259.78,156.95 L260.01,157.04 L260.24,156.27 L260.47,155.2 L260.7,155.89 L260.92,156.09 L261.15,156.53 L261.38,157.99 L261.61,158.02 L261.84,157.95 L262.06,157.44 L262.29,157.95 L262.52,156.77 L262.75,156.98 L262.98,157.04 L263.21,157.2 L263.44,157.08 L263.66,157.09 L263.89,157.26 L264.12,157.55 L264.35,155.73 L264.58,155.42 L264.81,153.47 L265.03,152.95 L265.26,153.75 L265.49,155.52 L265.72,156.83 L265.95,157.36 L266.18,157.76 L266.4,157.15 L266.63,157.88 L266.86,157.5 L267.09,157.86 L267.32,158.22 L267.55,153.38 L267.77,153.57 L268,153.63 L268.23,152.55 L268.46,147.5 L268.69,147.79 L268.92,150.7 L269.14,142.08 L269.37,142.62 L269.6,99.25 L269.83,141.93 L270.06,143.54 L270.29,147.16 L270.51,149.93 L270.74,149.39 L270.97,153.71 L271.2,153.41 L271.43,151.52 L271.66,152.87 L271.88,157.62 L272.11,158.42 L272.34,157.41 L272.57,158.35 L272.8,156.76 L273.03,156.55 L273.25,154.43 L273.48,153.87 L273.71,153.68 L273.94,153.54 L274.17,155.18 L274.4,155.79 L274.62,156.34 L274.85,157.34 L275.08,157.45 L275.31,157.59 L275.54,157.15 L275.77,157.26 L275.99,157.36 L276.22,157.48 L276.45,157.24 L276.68,157.47 L276.91,158.49 L277.14,157.28 L277.36,157.85 L277.59,157.47 L277.82,157.87 L278.05,157.68 L278.28,157.33 L278.5,157.01 L278.73,157.31 L278.96,157.59 L279.19,157.38 L279.42,157.72 L279.65,157.58 L279.88,156.75 L280.1,157.54 L280.33,156.95 L280.56,156.01 L280.79,153.45 L281.02,151.63 L281.25,152.61 L281.47,155.92 L281.7,156.98 L281.93,156.99 L282.16,157.27 L282.39,157.62 L282.62,156.95 L282.84,157.32 L283.07,156.92 L283.3,157.35 L283.53,157.24 L283.76,155.95 L283.99,155.8 L284.21,156.05 L284.44,155.57 L284.67,155.18 L284.9,155.85 L285.13,155.56 L285.36,155.55 L285.58,155.43 L285.81,154.68 L286.04,155.37 L286.27,155.11 L286.5,155.56 L286.73,155.86 L286.95,156.18 L287.18,156.19 L287.41,157.02 L287.64,157.5 L287.87,156.86 L288.1,156.98 L288.32,157.42 L288.55,156.65 L288.78,157.82 L289.01,156.95 L289.24,157.85 L289.47,157.57 L289.69,157.68 L289.92,158.14 L290.15,157.77 L290.38,157.43 L290.61,157.98 L290.84,158.05 L291.06,157.93 L291.29,157.51 L291.52,156.97 L291.75,157.67 L291.98,156.76 L292.21,157.05 L292.43,157.33 L292.66,157.01 L292.89,157.61 L293.12,156.7 L293.35,157.61 L293.58,157.12 L293.8,157.21 L294.03,156.77 L294.26,156.95 L294.49,157.33 L294.72,157.46 L294.95,157.27 L295.17,157.16 L295.4,158.35 L295.63,157.99 L295.86,157.87 L296.09,157.78 L296.31,158.19 L296.54,158.22 L296.77,158.1 L297,157.96 L297,158.6 Z" fill="#f9a820" stroke="#f8a000" stroke-width="0.35" stroke-linejoin="round"/>
</g>
<line x1="239.5" y1="99.5" x2="299.5" y2="99.5" stroke="#777" stroke-width="0.8" />
<line x1="299.5" y1="99.5" x2="299.5" y2="161.5" stroke="#777" stroke-width="0.8" />
<line x1="239.5" y1="99.5" x2="239.5" y2="161.5" stroke="#3a3a3a" stroke-width="0.9" />
<line x1="239.5" y1="161.5" x2="299.5" y2="161.5" stroke="#3a3a3a" stroke-width="0.9" />
<line x1="238.3" y1="158.6" x2="239.3" y2="158.6" stroke="#333" stroke-width="0.4" />
<text x="237.8" y="160" font-size="3.9" text-anchor="end" fill="#2a2a2a" font-weight="normal" font-style="normal" font-family="'DejaVu Sans', 'Liberation Sans', sans-serif" stroke="#2a2a2a" stroke-width="0.12" >0.0</text>
<line x1="238.3" y1="144.3" x2="239.3" y2="144.3" stroke="#333" stroke-width="0.4" />
<text x="237.8" y="145.7" font-size="3.9" text-anchor="end" fill="#2a2a2a" font-weight="normal" font-style="normal" font-family="'DejaVu Sans', 'Liberation Sans', sans-serif" stroke="#2a2a2a" stroke-width="0.12" >0.2</text>
<line x1="238.3" y1="130" x2="239.3" y2="130" stroke="#333" stroke-width="0.4" />
<text x="237.8" y="131.4" font-size="3.9" text-anchor="end" fill="#2a2a2a" font-weight="normal" font-style="normal" font-family="'DejaVu Sans', 'Liberation Sans', sans-serif" stroke="#2a2a2a" stroke-width="0.12" >0.4</text>
<line x1="238.3" y1="115.7" x2="239.3" y2="115.7" stroke="#333" stroke-width="0.4" />
<text x="237.8" y="117.1" font-size="3.9" text-anchor="end" fill="#2a2a2a" font-weight="normal" font-style="normal" font-family="'DejaVu Sans', 'Liberation Sans', sans-serif" stroke="#2a2a2a" stroke-width="0.12" >0.6</text>
<line x1="238.3" y1="101.4" x2="239.3" y2="101.4" stroke="#333" stroke-width="0.4" />
<text x="237.8" y="102.8" font-size="3.9" text-anchor="end" fill="#2a2a2a" font-weight="normal" font-style="normal" font-family="'DejaVu Sans', 'Liberation Sans', sans-serif" stroke="#2a2a2a" stroke-width="0.12" >0.8</text>
<line x1="242.2" y1="161.3" x2="242.2" y2="162.3" stroke="#333" stroke-width="0.4" />
<text x="242.2" y="166.4" font-size="3.9" text-anchor="middle" fill="#2a2a2a" font-weight="normal" font-style="normal" font-family="'DejaVu Sans', 'Liberation Sans', sans-serif" stroke="#2a2a2a" stroke-width="0.12" >− 120</text>
<line x1="255.9" y1="161.3" x2="255.9" y2="162.3" stroke="#333" stroke-width="0.4" />
<text x="255.9" y="166.4" font-size="3.9" text-anchor="middle" fill="#2a2a2a" font-weight="normal" font-style="normal" font-family="'DejaVu Sans', 'Liberation Sans', sans-serif" stroke="#2a2a2a" stroke-width="0.12" >− 60</text>
<line x1="269.6" y1="161.3" x2="269.6" y2="162.3" stroke="#333" stroke-width="0.4" />
<text x="269.6" y="166.4" font-size="3.9" text-anchor="middle" fill="#2a2a2a" font-weight="normal" font-style="normal" font-family="'DejaVu Sans', 'Liberation Sans', sans-serif" stroke="#2a2a2a" stroke-width="0.12" >0</text>
<line x1="283.3" y1="161.3" x2="283.3" y2="162.3" stroke="#333" stroke-width="0.4" />
<text x="283.3" y="166.4" font-size="3.9" text-anchor="middle" fill="#2a2a2a" font-weight="normal" font-style="normal" font-family="'DejaVu Sans', 'Liberation Sans', sans-serif" stroke="#2a2a2a" stroke-width="0.12" >60</text>
<line x1="297" y1="161.3" x2="297" y2="162.3" stroke="#333" stroke-width="0.4" />
<text x="297" y="166.4" font-size="3.9" text-anchor="middle" fill="#2a2a2a" font-weight="normal" font-style="normal" font-family="'DejaVu Sans', 'Liberation Sans', sans-serif" stroke="#2a2a2a" stroke-width="0.12" >120</text>
<text x="254.25" y="172.54" font-size="5.4" text-anchor="start" textLength="30.5" lengthAdjust="spacingAndGlyphs" fill="#222" font-weight="normal" font-style="normal" font-family="'DejaVu Sans', 'Liberation Sans', sans-serif" stroke="#222" stroke-width="0.08">frequencies</text>
<text x="230.33" y="147.5" font-size="4.8" fill="#222" stroke="#222" stroke-width="0.08" font-family="'DejaVu Sans', 'Liberation Sans', sans-serif" textLength="39" lengthAdjust="spacingAndGlyphs" transform="rotate(-90 230.33 147.5)">coefficients, |c<tspan font-size="3.2" dy="1">ω</tspan><tspan dy="-1">|</tspan></text>
<text x="223.8" y="103.27" font-size="5.2" text-anchor="start" fill="#1a1a1a" font-weight="bold" font-style="normal" font-family="'Liberation Sans', 'DejaVu Sans', sans-serif" stroke="#1a1a1a" stroke-width="0.12" >(a)</text>
<line x1="323.7" y1="99.4" x2="323.7" y2="161.5" stroke="#cccccc" stroke-width="0.5" />
<line x1="337.6" y1="99.4" x2="337.6" y2="161.5" stroke="#cccccc" stroke-width="0.5" />
<line x1="351.5" y1="99.4" x2="351.5" y2="161.5" stroke="#cccccc" stroke-width="0.5" />
<line x1="365.4" y1="99.4" x2="365.4" y2="161.5" stroke="#cccccc" stroke-width="0.5" />
<line x1="379.3" y1="99.4" x2="379.3" y2="161.5" stroke="#cccccc" stroke-width="0.5" />
<line x1="320.4" y1="158.6" x2="381.4" y2="158.6" stroke="#cccccc" stroke-width="0.5" />
<line x1="320.4" y1="148.24" x2="381.4" y2="148.24" stroke="#cccccc" stroke-width="0.5" />
<line x1="320.4" y1="137.88" x2="381.4" y2="137.88" stroke="#cccccc" stroke-width="0.5" />
<line x1="320.4" y1="127.52" x2="381.4" y2="127.52" stroke="#cccccc" stroke-width="0.5" />
<line x1="320.4" y1="117.16" x2="381.4" y2="117.16" stroke="#cccccc" stroke-width="0.5" />
<line x1="320.4" y1="106.8" x2="381.4" y2="106.8" stroke="#cccccc" stroke-width="0.5" />
<clipPath id="cc32099"><rect x="320.4" y="99.4" width="61" height="62.1"/></clipPath>
<g clip-path="url(#cc32099)">
<path d="M322.36,158.6 L322.36,158.13 L323.19,158.13 L323.28,157.94 L324.12,157.94 L324.21,158.1 L325.04,158.1 L325.14,157.87 L325.97,157.87 L326.06,158.07 L326.9,158.07 L326.99,157.9 L327.82,157.9 L327.92,157.92 L328.75,157.92 L328.84,157.95 L329.68,157.95 L329.77,158.1 L330.6,158.1 L330.7,157.84 L331.53,157.84 L331.62,158.04 L332.46,158.04 L332.55,157.87 L333.38,157.87 L333.48,157.99 L334.31,157.99 L334.4,158 L335.24,158 L335.33,157.89 L336.16,157.89 L336.26,158.04 L337.09,158.04 L337.18,157.87 L338.02,157.87 L338.11,158 L338.94,158 L339.04,157.88 L339.87,157.88 L339.96,157.9 L340.8,157.9 L340.89,157.79 L341.72,157.79 L341.82,157.36 L342.65,157.36 L342.74,158.04 L343.58,158.04 L343.67,156.94 L344.5,156.94 L344.6,157.97 L345.43,157.97 L345.52,157.36 L346.36,157.36 L346.45,154.46 L347.28,154.46 L347.38,156.53 L348.21,156.53 L348.3,153.42 L349.14,153.42 L349.23,148.24 L350.06,148.24 L350.16,136.84 L350.99,136.84 L351.08,101.62 L351.92,101.62 L352.01,136.84 L352.84,136.84 L352.94,148.24 L353.77,148.24 L353.86,153.42 L354.7,153.42 L354.79,156.53 L355.62,156.53 L355.72,154.46 L356.55,154.46 L356.64,157.36 L357.48,157.36 L357.57,157.83 L358.4,157.83 L358.5,156.94 L359.33,156.94 L359.42,158.15 L360.26,158.15 L360.35,157.36 L361.18,157.36 L361.28,158.09 L362.11,158.09 L362.2,158.17 L363.04,158.17 L363.13,157.8 L363.96,157.8 L364.06,157.84 L364.89,157.84 L364.98,157.92 L365.82,157.92 L365.91,157.88 L366.74,157.88 L366.84,157.91 L367.67,157.91 L367.76,157.99 L368.6,157.99 L368.69,158.14 L369.52,158.14 L369.62,158.07 L370.45,158.07 L370.54,157.98 L371.38,157.98 L371.47,157.94 L372.3,157.94 L372.4,158.06 L373.23,158.06 L373.32,158.13 L374.16,158.13 L374.25,158.04 L375.08,158.04 L375.18,158.11 L376.01,158.11 L376.1,157.8 L376.94,157.8 L377.03,158.09 L377.86,158.09 L377.96,158.02 L378.79,158.02 L378.88,157.96 L379.72,157.96 L379.81,158.08 L380.64,158.08 L380.64,158.6 Z" fill="#5a9bcf" stroke="#4f94cb" stroke-width="0.3" stroke-linejoin="round"/>
</g>
<line x1="320.5" y1="99.5" x2="381.5" y2="99.5" stroke="#777" stroke-width="0.8" />
<line x1="381.5" y1="99.5" x2="381.5" y2="161.5" stroke="#777" stroke-width="0.8" />
<line x1="320.5" y1="99.5" x2="320.5" y2="161.5" stroke="#3a3a3a" stroke-width="0.9" />
<line x1="320.5" y1="161.5" x2="381.5" y2="161.5" stroke="#3a3a3a" stroke-width="0.9" />
<line x1="319.4" y1="158.6" x2="320.4" y2="158.6" stroke="#333" stroke-width="0.4" />
<text x="318.9" y="160" font-size="3.9" text-anchor="end" fill="#2a2a2a" font-weight="normal" font-style="normal" font-family="'DejaVu Sans', 'Liberation Sans', sans-serif" stroke="#2a2a2a" stroke-width="0.12" >0.0</text>
<line x1="319.4" y1="148.24" x2="320.4" y2="148.24" stroke="#333" stroke-width="0.4" />
<text x="318.9" y="149.64" font-size="3.9" text-anchor="end" fill="#2a2a2a" font-weight="normal" font-style="normal" font-family="'DejaVu Sans', 'Liberation Sans', sans-serif" stroke="#2a2a2a" stroke-width="0.12" >0.5</text>
<line x1="319.4" y1="137.88" x2="320.4" y2="137.88" stroke="#333" stroke-width="0.4" />
<text x="318.9" y="139.28" font-size="3.9" text-anchor="end" fill="#2a2a2a" font-weight="normal" font-style="normal" font-family="'DejaVu Sans', 'Liberation Sans', sans-serif" stroke="#2a2a2a" stroke-width="0.12" >1.0</text>
<line x1="319.4" y1="127.52" x2="320.4" y2="127.52" stroke="#333" stroke-width="0.4" />
<text x="318.9" y="128.92" font-size="3.9" text-anchor="end" fill="#2a2a2a" font-weight="normal" font-style="normal" font-family="'DejaVu Sans', 'Liberation Sans', sans-serif" stroke="#2a2a2a" stroke-width="0.12" >1.5</text>
<line x1="319.4" y1="117.16" x2="320.4" y2="117.16" stroke="#333" stroke-width="0.4" />
<text x="318.9" y="118.56" font-size="3.9" text-anchor="end" fill="#2a2a2a" font-weight="normal" font-style="normal" font-family="'DejaVu Sans', 'Liberation Sans', sans-serif" stroke="#2a2a2a" stroke-width="0.12" >2.0</text>
<line x1="319.4" y1="106.8" x2="320.4" y2="106.8" stroke="#333" stroke-width="0.4" />
<text x="318.9" y="108.2" font-size="3.9" text-anchor="end" fill="#2a2a2a" font-weight="normal" font-style="normal" font-family="'DejaVu Sans', 'Liberation Sans', sans-serif" stroke="#2a2a2a" stroke-width="0.12" >2.5</text>
<line x1="323.7" y1="161.5" x2="323.7" y2="162.5" stroke="#333" stroke-width="0.4" />
<text x="323.7" y="166.6" font-size="3.9" text-anchor="middle" fill="#2a2a2a" font-weight="normal" font-style="normal" font-family="'DejaVu Sans', 'Liberation Sans', sans-serif" stroke="#2a2a2a" stroke-width="0.12" >− 30</text>
<line x1="337.6" y1="161.5" x2="337.6" y2="162.5" stroke="#333" stroke-width="0.4" />
<text x="337.6" y="166.6" font-size="3.9" text-anchor="middle" fill="#2a2a2a" font-weight="normal" font-style="normal" font-family="'DejaVu Sans', 'Liberation Sans', sans-serif" stroke="#2a2a2a" stroke-width="0.12" >− 15</text>
<line x1="351.5" y1="161.5" x2="351.5" y2="162.5" stroke="#333" stroke-width="0.4" />
<text x="351.5" y="166.6" font-size="3.9" text-anchor="middle" fill="#2a2a2a" font-weight="normal" font-style="normal" font-family="'DejaVu Sans', 'Liberation Sans', sans-serif" stroke="#2a2a2a" stroke-width="0.12" >0</text>
<line x1="365.4" y1="161.5" x2="365.4" y2="162.5" stroke="#333" stroke-width="0.4" />
<text x="365.4" y="166.6" font-size="3.9" text-anchor="middle" fill="#2a2a2a" font-weight="normal" font-style="normal" font-family="'DejaVu Sans', 'Liberation Sans', sans-serif" stroke="#2a2a2a" stroke-width="0.12" >15</text>
<line x1="379.3" y1="161.5" x2="379.3" y2="162.5" stroke="#333" stroke-width="0.4" />
<text x="379.3" y="166.6" font-size="3.9" text-anchor="middle" fill="#2a2a2a" font-weight="normal" font-style="normal" font-family="'DejaVu Sans', 'Liberation Sans', sans-serif" stroke="#2a2a2a" stroke-width="0.12" >30</text>
<text x="335.65" y="172.74" font-size="5.4" text-anchor="start" textLength="30.5" lengthAdjust="spacingAndGlyphs" fill="#222" font-weight="normal" font-style="normal" font-family="'DejaVu Sans', 'Liberation Sans', sans-serif" stroke="#222" stroke-width="0.08">frequencies</text>
<text x="309.73" y="148.5" font-size="4.8" fill="#222" stroke="#222" stroke-width="0.08" font-family="'DejaVu Sans', 'Liberation Sans', sans-serif" textLength="40" lengthAdjust="spacingAndGlyphs" transform="rotate(-90 309.73 148.5)">coefficients, |c<tspan font-size="3.2" dy="1">ω</tspan><tspan dy="-1">|</tspan></text>
<text x="305.2" y="103.27" font-size="5.2" text-anchor="start" fill="#1a1a1a" font-weight="bold" font-style="normal" font-family="'Liberation Sans', 'DejaVu Sans', sans-serif" stroke="#1a1a1a" stroke-width="0.12" >(b)</text>
<line x1="244.2" y1="175.5" x2="244.2" y2="237.3" stroke="#cccccc" stroke-width="0.5" />
<line x1="257.5" y1="175.5" x2="257.5" y2="237.3" stroke="#cccccc" stroke-width="0.5" />
<line x1="270.8" y1="175.5" x2="270.8" y2="237.3" stroke="#cccccc" stroke-width="0.5" />
<line x1="284.1" y1="175.5" x2="284.1" y2="237.3" stroke="#cccccc" stroke-width="0.5" />
<line x1="297.4" y1="175.5" x2="297.4" y2="237.3" stroke="#cccccc" stroke-width="0.5" />
<line x1="241.5" y1="234.9" x2="300.2" y2="234.9" stroke="#cccccc" stroke-width="0.5" />
<line x1="241.5" y1="224.3" x2="300.2" y2="224.3" stroke="#cccccc" stroke-width="0.5" />
<line x1="241.5" y1="213.7" x2="300.2" y2="213.7" stroke="#cccccc" stroke-width="0.5" />
<line x1="241.5" y1="203.1" x2="300.2" y2="203.1" stroke="#cccccc" stroke-width="0.5" />
<line x1="241.5" y1="192.5" x2="300.2" y2="192.5" stroke="#cccccc" stroke-width="0.5" />
<line x1="241.5" y1="181.9" x2="300.2" y2="181.9" stroke="#cccccc" stroke-width="0.5" />
<clipPath id="cc241175"><rect x="241.5" y="175.5" width="58.7" height="61.8"/></clipPath>
<g clip-path="url(#cc241175)">
<path d="M243.09,234.9 L243.09,219.85 L243.31,218.7 L243.54,229.87 L243.76,211.26 L243.98,218.99 L244.2,227.38 L244.42,210.63 L244.64,226.85 L244.87,215.33 L245.09,220.1 L245.31,224.82 L245.53,222.2 L245.75,220.12 L245.97,222.38 L246.2,225.05 L246.42,221.45 L246.64,221.04 L246.86,216.09 L247.08,226.17 L247.3,229.98 L247.53,207.95 L247.75,227.92 L247.97,212.73 L248.19,214.74 L248.41,204.72 L248.63,197.8 L248.86,206.71 L249.08,225.97 L249.3,224.74 L249.52,212.19 L249.74,224.91 L249.96,213.82 L250.19,211.69 L250.41,226.12 L250.63,208.97 L250.85,217.9 L251.07,204.9 L251.29,230.07 L251.52,227.61 L251.74,213.01 L251.96,222.3 L252.18,218.43 L252.4,206.23 L252.62,219.97 L252.84,228.54 L253.07,225.59 L253.29,214.58 L253.51,209.33 L253.73,209.73 L253.95,216.67 L254.18,222.79 L254.4,226.03 L254.62,223.25 L254.84,223.9 L255.06,206.26 L255.28,218.3 L255.5,226.39 L255.73,212.57 L255.95,217.03 L256.17,179.78 L256.39,204.62 L256.61,205.37 L256.84,222.16 L257.06,189.85 L257.28,217.09 L257.5,211.72 L257.72,212.2 L257.94,210.34 L258.17,217.46 L258.39,225.48 L258.61,208.64 L258.83,217.46 L259.05,217.42 L259.27,209.69 L259.5,211.44 L259.72,204.41 L259.94,218.81 L260.16,212.65 L260.38,227.44 L260.6,226.52 L260.82,199.92 L261.05,221.68 L261.27,217.31 L261.49,223.1 L261.71,205.61 L261.93,217.78 L262.16,218.96 L262.38,206.38 L262.6,208.84 L262.82,209.43 L263.04,206.11 L263.26,210.22 L263.49,220.99 L263.71,205.03 L263.93,229.42 L264.15,196.74 L264.37,218 L264.59,220.13 L264.81,216.6 L265.04,218.5 L265.26,207.34 L265.48,208.6 L265.7,209.99 L265.92,222.99 L266.15,217.47 L266.37,227.73 L266.59,210.08 L266.81,228.86 L267.03,218.6 L267.25,225.34 L267.48,207.53 L267.7,206.01 L267.92,221.42 L268.14,207.06 L268.36,224.55 L268.58,210.83 L268.81,222.49 L269.03,217.33 L269.25,213.23 L269.47,219.77 L269.69,223.97 L269.91,213.79 L270.13,208.88 L270.36,204.25 L270.58,220.54 L270.8,188.79 L271.02,227.68 L271.24,223.78 L271.47,229.47 L271.69,222.51 L271.91,210.47 L272.13,226.45 L272.35,212.37 L272.57,221.27 L272.8,223.09 L273.02,216.37 L273.24,217.57 L273.46,217.3 L273.68,226.36 L273.9,214.36 L274.12,206.38 L274.35,230.16 L274.57,227.53 L274.79,213.84 L275.01,220.64 L275.23,197.8 L275.45,204.43 L275.68,220.92 L275.9,205.95 L276.12,213.09 L276.34,229.3 L276.56,222.06 L276.79,227.7 L277.01,215.02 L277.23,206.24 L277.45,228.49 L277.67,229.39 L277.89,229.34 L278.12,221.87 L278.34,224.89 L278.56,204.88 L278.78,209.32 L279,205.53 L279.22,213.99 L279.44,208.25 L279.67,195.15 L279.89,221.35 L280.11,212.22 L280.33,221.43 L280.55,216.86 L280.78,208.21 L281,223.32 L281.22,224.64 L281.44,207.54 L281.66,216.88 L281.88,224.67 L282.11,220.66 L282.33,221.66 L282.55,206.52 L282.77,216.64 L282.99,205.97 L283.21,216.7 L283.44,205.53 L283.66,206.05 L283.88,214.29 L284.1,209.06 L284.32,221.48 L284.54,226.43 L284.76,213.39 L284.99,228.4 L285.21,216.77 L285.43,213.01 L285.65,180.31 L285.87,206.51 L286.1,223.8 L286.32,207.22 L286.54,216.05 L286.76,192.5 L286.98,216.91 L287.2,207.63 L287.43,221.14 L287.65,230.22 L287.87,208.06 L288.09,212.01 L288.31,210.7 L288.53,226.16 L288.75,223.74 L288.98,212.88 L289.2,209.98 L289.42,212.02 L289.64,213.59 L289.86,212.17 L290.09,225.44 L290.31,217.2 L290.53,220.35 L290.75,210.23 L290.97,215.52 L291.19,210.61 L291.42,211.21 L291.64,206.31 L291.86,207.44 L292.08,228.53 L292.3,211.86 L292.52,198.86 L292.75,226.89 L292.97,216.5 L293.19,207.74 L293.41,208.82 L293.63,226.73 L293.85,223.85 L294.07,211.21 L294.3,210.88 L294.52,229.11 L294.74,228.8 L294.96,215.94 L295.18,217.46 L295.41,213.76 L295.63,226.15 L295.85,219.86 L296.07,213.95 L296.29,222.14 L296.51,221.79 L296.74,230.35 L296.96,214.01 L297.18,220.82 L297.4,222.24 L297.62,216.7 L297.84,212.99 L298.06,212.74 L298.29,222.98 L298.51,217.61 L298.51,234.9 Z" fill="#f9a820" stroke="#f8a000" stroke-width="0.25" stroke-linejoin="round"/>
</g>
<line x1="241.5" y1="175.5" x2="300.5" y2="175.5" stroke="#777" stroke-width="0.8" />
<line x1="300.5" y1="175.5" x2="300.5" y2="237.5" stroke="#777" stroke-width="0.8" />
<line x1="241.5" y1="175.5" x2="241.5" y2="237.5" stroke="#3a3a3a" stroke-width="0.9" />
<line x1="241.5" y1="237.5" x2="300.5" y2="237.5" stroke="#3a3a3a" stroke-width="0.9" />
<line x1="240.5" y1="234.9" x2="241.5" y2="234.9" stroke="#333" stroke-width="0.4" />
<text x="240" y="236.3" font-size="3.9" text-anchor="end" fill="#2a2a2a" font-weight="normal" font-style="normal" font-family="'DejaVu Sans', 'Liberation Sans', sans-serif" stroke="#2a2a2a" stroke-width="0.12" >0.00</text>
<line x1="240.5" y1="224.3" x2="241.5" y2="224.3" stroke="#333" stroke-width="0.4" />
<text x="240" y="225.7" font-size="3.9" text-anchor="end" fill="#2a2a2a" font-weight="normal" font-style="normal" font-family="'DejaVu Sans', 'Liberation Sans', sans-serif" stroke="#2a2a2a" stroke-width="0.12" >0.02</text>
<line x1="240.5" y1="213.7" x2="241.5" y2="213.7" stroke="#333" stroke-width="0.4" />
<text x="240" y="215.1" font-size="3.9" text-anchor="end" fill="#2a2a2a" font-weight="normal" font-style="normal" font-family="'DejaVu Sans', 'Liberation Sans', sans-serif" stroke="#2a2a2a" stroke-width="0.12" >0.04</text>
<line x1="240.5" y1="203.1" x2="241.5" y2="203.1" stroke="#333" stroke-width="0.4" />
<text x="240" y="204.5" font-size="3.9" text-anchor="end" fill="#2a2a2a" font-weight="normal" font-style="normal" font-family="'DejaVu Sans', 'Liberation Sans', sans-serif" stroke="#2a2a2a" stroke-width="0.12" >0.06</text>
<line x1="240.5" y1="192.5" x2="241.5" y2="192.5" stroke="#333" stroke-width="0.4" />
<text x="240" y="193.9" font-size="3.9" text-anchor="end" fill="#2a2a2a" font-weight="normal" font-style="normal" font-family="'DejaVu Sans', 'Liberation Sans', sans-serif" stroke="#2a2a2a" stroke-width="0.12" >0.08</text>
<line x1="240.5" y1="181.9" x2="241.5" y2="181.9" stroke="#333" stroke-width="0.4" />
<text x="240" y="183.3" font-size="3.9" text-anchor="end" fill="#2a2a2a" font-weight="normal" font-style="normal" font-family="'DejaVu Sans', 'Liberation Sans', sans-serif" stroke="#2a2a2a" stroke-width="0.12" >0.10</text>
<line x1="244.2" y1="237.3" x2="244.2" y2="238.3" stroke="#333" stroke-width="0.4" />
<text x="244.2" y="242.4" font-size="3.9" text-anchor="middle" fill="#2a2a2a" font-weight="normal" font-style="normal" font-family="'DejaVu Sans', 'Liberation Sans', sans-serif" stroke="#2a2a2a" stroke-width="0.12" >− 120</text>
<line x1="257.5" y1="237.3" x2="257.5" y2="238.3" stroke="#333" stroke-width="0.4" />
<text x="257.5" y="242.4" font-size="3.9" text-anchor="middle" fill="#2a2a2a" font-weight="normal" font-style="normal" font-family="'DejaVu Sans', 'Liberation Sans', sans-serif" stroke="#2a2a2a" stroke-width="0.12" >− 60</text>
<line x1="270.8" y1="237.3" x2="270.8" y2="238.3" stroke="#333" stroke-width="0.4" />
<text x="270.8" y="242.4" font-size="3.9" text-anchor="middle" fill="#2a2a2a" font-weight="normal" font-style="normal" font-family="'DejaVu Sans', 'Liberation Sans', sans-serif" stroke="#2a2a2a" stroke-width="0.12" >0</text>
<line x1="284.1" y1="237.3" x2="284.1" y2="238.3" stroke="#333" stroke-width="0.4" />
<text x="284.1" y="242.4" font-size="3.9" text-anchor="middle" fill="#2a2a2a" font-weight="normal" font-style="normal" font-family="'DejaVu Sans', 'Liberation Sans', sans-serif" stroke="#2a2a2a" stroke-width="0.12" >60</text>
<line x1="297.4" y1="237.3" x2="297.4" y2="238.3" stroke="#333" stroke-width="0.4" />
<text x="297.4" y="242.4" font-size="3.9" text-anchor="middle" fill="#2a2a2a" font-weight="normal" font-style="normal" font-family="'DejaVu Sans', 'Liberation Sans', sans-serif" stroke="#2a2a2a" stroke-width="0.12" >120</text>
<text x="255.6" y="248.54" font-size="5.4" text-anchor="start" textLength="30.5" lengthAdjust="spacingAndGlyphs" fill="#222" font-weight="normal" font-style="normal" font-family="'DejaVu Sans', 'Liberation Sans', sans-serif" stroke="#222" stroke-width="0.08">frequencies</text>
<text x="227.43" y="227" font-size="4.8" fill="#222" stroke="#222" stroke-width="0.08" font-family="'DejaVu Sans', 'Liberation Sans', sans-serif" textLength="40" lengthAdjust="spacingAndGlyphs" transform="rotate(-90 227.43 227)">coefficients, |c<tspan font-size="3.2" dy="1">ω</tspan><tspan dy="-1">|</tspan></text>
<text x="225.4" y="179.27" font-size="5.2" text-anchor="start" fill="#1a1a1a" font-weight="bold" font-style="normal" font-family="'Liberation Sans', 'DejaVu Sans', sans-serif" stroke="#1a1a1a" stroke-width="0.12" >(c)</text>
<line x1="323.4" y1="175.5" x2="323.4" y2="237.3" stroke="#cccccc" stroke-width="0.5" />
<line x1="337" y1="175.5" x2="337" y2="237.3" stroke="#cccccc" stroke-width="0.5" />
<line x1="350.6" y1="175.5" x2="350.6" y2="237.3" stroke="#cccccc" stroke-width="0.5" />
<line x1="364.2" y1="175.5" x2="364.2" y2="237.3" stroke="#cccccc" stroke-width="0.5" />
<line x1="377.8" y1="175.5" x2="377.8" y2="237.3" stroke="#cccccc" stroke-width="0.5" />
<line x1="320.4" y1="234.9" x2="380.6" y2="234.9" stroke="#cccccc" stroke-width="0.5" />
<line x1="320.4" y1="218.2" x2="380.6" y2="218.2" stroke="#cccccc" stroke-width="0.5" />
<line x1="320.4" y1="201.5" x2="380.6" y2="201.5" stroke="#cccccc" stroke-width="0.5" />
<line x1="320.4" y1="184.8" x2="380.6" y2="184.8" stroke="#cccccc" stroke-width="0.5" />
<clipPath id="cc320175"><rect x="320.4" y="175.5" width="60.2" height="61.8"/></clipPath>
<g clip-path="url(#cc320175)">
<path d="M322.27,234.9 L322.27,232.44 L322.49,231.54 L322.72,231.47 L322.95,231.22 L323.17,231.18 L323.4,231.66 L323.63,231.52 L323.85,232.3 L324.08,231.17 L324.31,231.6 L324.53,231.66 L324.76,232.94 L324.99,232.04 L325.21,232.02 L325.44,232.1 L325.67,232.02 L325.89,231.62 L326.12,231.83 L326.35,231.69 L326.57,231.83 L326.8,232.36 L327.03,232.04 L327.25,231.78 L327.48,231.57 L327.71,231.01 L327.93,231.09 L328.16,231.33 L328.39,231.69 L328.61,232.86 L328.84,231.59 L329.07,231.61 L329.29,230.67 L329.52,232.02 L329.75,230.59 L329.97,231.9 L330.2,231.37 L330.43,231.1 L330.65,231.7 L330.88,231.31 L331.11,231.32 L331.33,229.82 L331.56,230.69 L331.79,231.17 L332.01,231.52 L332.24,231.89 L332.47,230.96 L332.69,230.52 L332.92,230.47 L333.15,228.83 L333.37,228.59 L333.6,229.91 L333.83,229.96 L334.05,228.9 L334.28,231.64 L334.51,227.77 L334.73,227.97 L334.96,228.02 L335.19,230.33 L335.41,228.49 L335.64,226.61 L335.87,228.61 L336.09,227.15 L336.32,230.56 L336.55,227.36 L336.77,227.92 L337,226.29 L337.23,227.68 L337.45,229.81 L337.68,225.52 L337.91,229.77 L338.13,228.1 L338.36,228.39 L338.59,225.23 L338.81,227.23 L339.04,227.01 L339.27,226.77 L339.49,226.68 L339.72,224.93 L339.95,227.55 L340.17,226.13 L340.4,230.96 L340.63,229.23 L340.85,228.89 L341.08,229.11 L341.31,227.08 L341.53,228.87 L341.76,227.54 L341.99,224.98 L342.21,229.48 L342.44,228.97 L342.67,226.33 L342.89,228.99 L343.12,229.8 L343.35,225.9 L343.57,227.59 L343.8,226.2 L344.03,227.77 L344.25,227.57 L344.48,228.48 L344.71,228.15 L344.93,226.37 L345.16,224.88 L345.39,225.16 L345.61,228.27 L345.84,227.74 L346.07,225.77 L346.29,228.29 L346.52,226.36 L346.75,224.98 L346.97,221.74 L347.2,224.27 L347.43,221.26 L347.65,220.96 L347.88,223.72 L348.11,219.28 L348.33,218.73 L348.56,220.65 L348.79,219.81 L349.01,207.45 L349.24,214.74 L349.47,201.1 L349.69,205.99 L349.92,207.74 L350.15,183.62 L350.37,196.49 L350.6,178.96 L350.83,196.49 L351.05,188.63 L351.28,200.59 L351.51,199.31 L351.73,203.29 L351.96,214.75 L352.19,210.65 L352.41,210.77 L352.64,214.78 L352.87,216.6 L353.09,215.84 L353.32,219.86 L353.55,222.84 L353.77,222.17 L354,221.51 L354.23,222.98 L354.45,226.41 L354.68,227.77 L354.91,225.39 L355.13,224.42 L355.36,226.21 L355.59,225.92 L355.81,226.31 L356.04,226.65 L356.27,229 L356.49,227.39 L356.72,229.36 L356.95,228.04 L357.17,227.55 L357.4,228.73 L357.63,226.64 L357.85,228.65 L358.08,227.58 L358.31,230.5 L358.53,226.97 L358.76,226.2 L358.99,226.13 L359.21,227.92 L359.44,225.41 L359.67,229.79 L359.89,225.22 L360.12,225.76 L360.35,230.52 L360.57,225.14 L360.8,229.69 L361.03,225.01 L361.25,227.9 L361.48,225.41 L361.71,224.96 L361.93,229.45 L362.16,228.09 L362.39,224.31 L362.61,226.67 L362.84,229.89 L363.07,230.21 L363.29,229.5 L363.52,230.55 L363.75,229.21 L363.97,225.48 L364.2,228.9 L364.43,229.82 L364.65,228.38 L364.88,228.83 L365.11,228.3 L365.33,228.05 L365.56,228.02 L365.79,226.85 L366.01,228.21 L366.24,230.94 L366.47,228.05 L366.69,227.44 L366.92,228.41 L367.15,229.24 L367.37,227.94 L367.6,231.99 L367.83,228.76 L368.05,229.37 L368.28,229.1 L368.51,231.58 L368.73,229.65 L368.96,231.47 L369.19,231.67 L369.41,231.11 L369.64,231.04 L369.87,232.1 L370.09,231.13 L370.32,230.7 L370.55,231.04 L370.77,231.94 L371,231.8 L371.23,231.54 L371.45,231 L371.68,231.39 L371.91,231.48 L372.13,232.16 L372.36,231.33 L372.59,230.67 L372.81,231.23 L373.04,232.43 L373.27,232.6 L373.49,231.44 L373.72,232.1 L373.95,232.63 L374.17,230.83 L374.4,231.66 L374.63,232.1 L374.85,231.66 L375.08,230.88 L375.31,232.32 L375.53,232.61 L375.76,232.23 L375.99,232.45 L376.21,231.5 L376.44,232.02 L376.67,232.17 L376.89,231.25 L377.12,231.77 L377.35,232.22 L377.57,232.6 L377.8,232.06 L378.03,232.05 L378.25,232.79 L378.48,232.6 L378.71,231.36 L378.93,231.73 L378.93,234.9 Z" fill="#3480bf" stroke="#2b78b6" stroke-width="0.25" stroke-linejoin="round"/>
</g>
<line x1="320.5" y1="175.5" x2="380.5" y2="175.5" stroke="#777" stroke-width="0.8" />
<line x1="380.5" y1="175.5" x2="380.5" y2="237.5" stroke="#777" stroke-width="0.8" />
<line x1="320.5" y1="175.5" x2="320.5" y2="237.5" stroke="#3a3a3a" stroke-width="0.9" />
<line x1="320.5" y1="237.5" x2="380.5" y2="237.5" stroke="#3a3a3a" stroke-width="0.9" />
<line x1="319.4" y1="234.9" x2="320.4" y2="234.9" stroke="#333" stroke-width="0.4" />
<text x="318.9" y="236.3" font-size="3.9" text-anchor="end" fill="#2a2a2a" font-weight="normal" font-style="normal" font-family="'DejaVu Sans', 'Liberation Sans', sans-serif" stroke="#2a2a2a" stroke-width="0.12" >0.0</text>
<line x1="319.4" y1="218.2" x2="320.4" y2="218.2" stroke="#333" stroke-width="0.4" />
<text x="318.9" y="219.6" font-size="3.9" text-anchor="end" fill="#2a2a2a" font-weight="normal" font-style="normal" font-family="'DejaVu Sans', 'Liberation Sans', sans-serif" stroke="#2a2a2a" stroke-width="0.12" >0.1</text>
<line x1="319.4" y1="201.5" x2="320.4" y2="201.5" stroke="#333" stroke-width="0.4" />
<text x="318.9" y="202.9" font-size="3.9" text-anchor="end" fill="#2a2a2a" font-weight="normal" font-style="normal" font-family="'DejaVu Sans', 'Liberation Sans', sans-serif" stroke="#2a2a2a" stroke-width="0.12" >0.2</text>
<line x1="319.4" y1="184.8" x2="320.4" y2="184.8" stroke="#333" stroke-width="0.4" />
<text x="318.9" y="186.2" font-size="3.9" text-anchor="end" fill="#2a2a2a" font-weight="normal" font-style="normal" font-family="'DejaVu Sans', 'Liberation Sans', sans-serif" stroke="#2a2a2a" stroke-width="0.12" >0.3</text>
<line x1="323.4" y1="237.3" x2="323.4" y2="238.3" stroke="#333" stroke-width="0.4" />
<text x="323.4" y="242.4" font-size="3.9" text-anchor="middle" fill="#2a2a2a" font-weight="normal" font-style="normal" font-family="'DejaVu Sans', 'Liberation Sans', sans-serif" stroke="#2a2a2a" stroke-width="0.12" >− 120</text>
<line x1="337" y1="237.3" x2="337" y2="238.3" stroke="#333" stroke-width="0.4" />
<text x="337" y="242.4" font-size="3.9" text-anchor="middle" fill="#2a2a2a" font-weight="normal" font-style="normal" font-family="'DejaVu Sans', 'Liberation Sans', sans-serif" stroke="#2a2a2a" stroke-width="0.12" >− 60</text>
<line x1="350.6" y1="237.3" x2="350.6" y2="238.3" stroke="#333" stroke-width="0.4" />
<text x="350.6" y="242.4" font-size="3.9" text-anchor="middle" fill="#2a2a2a" font-weight="normal" font-style="normal" font-family="'DejaVu Sans', 'Liberation Sans', sans-serif" stroke="#2a2a2a" stroke-width="0.12" >0</text>
<line x1="364.2" y1="237.3" x2="364.2" y2="238.3" stroke="#333" stroke-width="0.4" />
<text x="364.2" y="242.4" font-size="3.9" text-anchor="middle" fill="#2a2a2a" font-weight="normal" font-style="normal" font-family="'DejaVu Sans', 'Liberation Sans', sans-serif" stroke="#2a2a2a" stroke-width="0.12" >60</text>
<line x1="377.8" y1="237.3" x2="377.8" y2="238.3" stroke="#333" stroke-width="0.4" />
<text x="377.8" y="242.4" font-size="3.9" text-anchor="middle" fill="#2a2a2a" font-weight="normal" font-style="normal" font-family="'DejaVu Sans', 'Liberation Sans', sans-serif" stroke="#2a2a2a" stroke-width="0.12" >120</text>
<text x="335.25" y="248.54" font-size="5.4" text-anchor="start" textLength="30.5" lengthAdjust="spacingAndGlyphs" fill="#222" font-weight="normal" font-style="normal" font-family="'DejaVu Sans', 'Liberation Sans', sans-serif" stroke="#222" stroke-width="0.08">frequencies</text>
<text x="309.13" y="227" font-size="4.8" fill="#222" stroke="#222" stroke-width="0.08" font-family="'DejaVu Sans', 'Liberation Sans', sans-serif" textLength="40" lengthAdjust="spacingAndGlyphs" transform="rotate(-90 309.13 227)">coefficients, |c<tspan font-size="3.2" dy="1">ω</tspan><tspan dy="-1">|</tspan></text>
<text x="305.2" y="179.07" font-size="5.2" text-anchor="start" fill="#1a1a1a" font-weight="bold" font-style="normal" font-family="'Liberation Sans', 'DejaVu Sans', sans-serif" stroke="#1a1a1a" stroke-width="0.12" >(d)</text>
</svg></body></html>
